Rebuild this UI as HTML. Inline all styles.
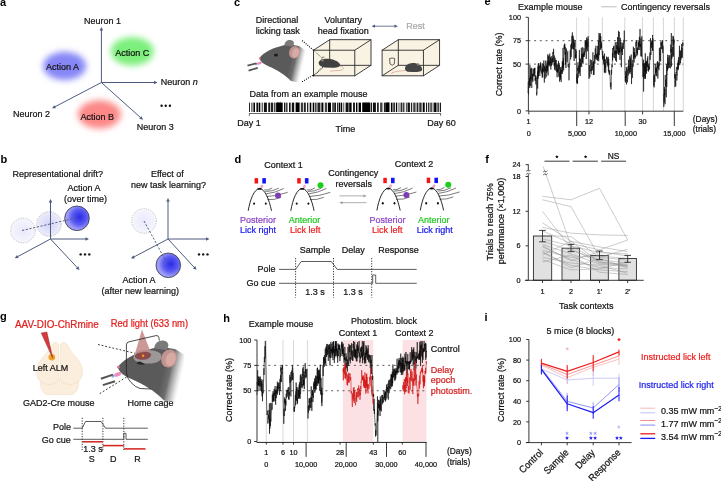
<!DOCTYPE html>
<html><head><meta charset="utf-8"><style>
html,body{margin:0;padding:0;background:#fff;width:721px;height:481px;overflow:hidden}
svg{display:block;will-change:transform}
svg text{font-family:"Liberation Sans", sans-serif}
</style></head><body>
<svg width="721" height="481" viewBox="0 0 721 481">
<defs>
<radialGradient id="gA"><stop offset="0" stop-color="#8484f7"/><stop offset="0.45" stop-color="#8989f8"/><stop offset="0.72" stop-color="#a4a4fa"/><stop offset="0.88" stop-color="#d0d0fc"/><stop offset="1" stop-color="#ffffff" stop-opacity="0"/></radialGradient>
<radialGradient id="gB"><stop offset="0" stop-color="#fc8484"/><stop offset="0.45" stop-color="#fc8a8a"/><stop offset="0.72" stop-color="#fda6a6"/><stop offset="0.88" stop-color="#fed0d0"/><stop offset="1" stop-color="#ffffff" stop-opacity="0"/></radialGradient>
<radialGradient id="gC"><stop offset="0" stop-color="#78ee78"/><stop offset="0.45" stop-color="#80f080"/><stop offset="0.72" stop-color="#a0f4a0"/><stop offset="0.88" stop-color="#cef9ce"/><stop offset="1" stop-color="#ffffff" stop-opacity="0"/></radialGradient>
<radialGradient id="gS" cx="0.6" cy="0.45"><stop offset="0" stop-color="#2a2ae6"/><stop offset="0.6" stop-color="#5a5af2"/><stop offset="1" stop-color="#9c9cf8"/></radialGradient>
<radialGradient id="gD"><stop offset="0" stop-color="#e8e8fb"/><stop offset="1" stop-color="#f6f6fd"/></radialGradient>
<radialGradient id="gD2"><stop offset="0" stop-color="#d4d4f8"/><stop offset="1" stop-color="#ececfb"/></radialGradient>
<linearGradient id="mhead" x1="0" y1="0" x2="1" y2="0"><stop offset="0" stop-color="#555"/><stop offset="0.7" stop-color="#4a4a4a"/><stop offset="1" stop-color="#4a4a4a" stop-opacity="0"/></linearGradient>
<linearGradient id="mhead2" x1="0" y1="0" x2="1" y2="0.3"><stop offset="0" stop-color="#5e5e5e"/><stop offset="0.65" stop-color="#555"/><stop offset="1" stop-color="#555" stop-opacity="0"/></linearGradient>
<filter id="bl1" x="-50%" y="-50%" width="200%" height="200%"><feGaussianBlur stdDeviation="0.6"/></filter>
</defs>
<text x="0" y="5.6" font-size="11" text-anchor="start" fill="#000" font-weight="bold" >a</text>
<defs><filter id="blob" x="-50%" y="-50%" width="200%" height="200%"><feGaussianBlur stdDeviation="3"/></filter></defs>
<ellipse cx="64.6" cy="66" rx="21.5" ry="14.2" fill="#8686f7" filter="url(#blob)"/>
<ellipse cx="132.3" cy="51.4" rx="21.5" ry="14.2" fill="#7cef7c" filter="url(#blob)"/>
<ellipse cx="99.4" cy="114.5" rx="21.5" ry="14.2" fill="#fc8888" filter="url(#blob)"/>
<line x1="101.4" y1="82.5" x2="101.4" y2="30.0" stroke="#4e5b7e" stroke-width="1.0" />
<polygon points="101.4,27 103.15,30.50 99.65,30.50" fill="#4e5b7e"/>
<line x1="101.4" y1="82.5" x2="154.5" y2="82.5" stroke="#4e5b7e" stroke-width="1.0" />
<polygon points="157.5,82.5 154.00,84.25 154.00,80.75" fill="#4e5b7e"/>
<line x1="101.4" y1="82.5" x2="54.65917842155358" y2="106.91119831424935" stroke="#4e5b7e" stroke-width="1.0" />
<polygon points="52,108.3 54.29,105.13 55.91,108.23" fill="#4e5b7e"/>
<line x1="101.4" y1="82.5" x2="140.76638370482124" y2="117.79726231225557" stroke="#4e5b7e" stroke-width="1.0" />
<polygon points="143,119.8 139.23,118.77 141.56,116.16" fill="#4e5b7e"/>
<text transform="translate(84,23.6) scale(1,1.1)" font-size="9" text-anchor="start" fill="#141414" stroke="#141414" stroke-width="0.22" >Neuron 1</text>
<text transform="translate(160.8,84.5) scale(1,1.1)" font-size="9" text-anchor="start" fill="#141414" stroke="#141414" stroke-width="0.22" >Neuron <tspan font-style="italic">n</tspan></text>
<text transform="translate(13,117) scale(1,1.1)" font-size="9" text-anchor="start" fill="#141414" stroke="#141414" stroke-width="0.22" >Neuron 2</text>
<text transform="translate(136.8,129.7) scale(1,1.1)" font-size="9" text-anchor="start" fill="#141414" stroke="#141414" stroke-width="0.22" >Neuron 3</text>
<text transform="translate(45.9,69.8) scale(1,1.1)" font-size="9" text-anchor="start" fill="#141414" stroke="#141414" stroke-width="0.22" >Action A</text>
<text transform="translate(115.3,55.9) scale(1,1.1)" font-size="9" text-anchor="start" fill="#141414" stroke="#141414" stroke-width="0.22" >Action C</text>
<text transform="translate(80.4,119.6) scale(1,1.1)" font-size="9" text-anchor="start" fill="#141414" stroke="#141414" stroke-width="0.22" >Action B</text>
<circle cx="161.6" cy="105.7" r="1.2" fill="#111"/>
<circle cx="165.7" cy="105.7" r="1.2" fill="#111"/>
<circle cx="169.9" cy="105.7" r="1.2" fill="#111"/>
<text x="0.5" y="162.5" font-size="11" text-anchor="start" fill="#000" font-weight="bold" >b</text>
<text transform="translate(12.5,176.5) scale(1,1.1)" font-size="9" text-anchor="start" fill="#141414" stroke="#141414" stroke-width="0.22" >Representational drift?</text>
<text transform="translate(67.5,191.3) scale(1,1.1)" font-size="9" text-anchor="start" fill="#141414" stroke="#141414" stroke-width="0.22" >Action A</text>
<text transform="translate(64,202) scale(1,1.1)" font-size="9" text-anchor="start" fill="#141414" stroke="#141414" stroke-width="0.22" >(over time)</text>
<circle cx="23" cy="230.5" r="12.3" fill="url(#gD)" stroke="#a0a0a0" stroke-width="0.8" stroke-dasharray="0.9,1.4"/>
<circle cx="49" cy="224" r="12.3" fill="url(#gD2)" stroke="#a0a0a0" stroke-width="0.8" stroke-dasharray="0.9,1.4"/>
<circle cx="77" cy="218.3" r="12.3" fill="url(#gS)" stroke="#222" stroke-width="0.7"/>
<line x1="22" y1="230.5" x2="76" y2="218" stroke="#4e5b7e" stroke-width="0.95" stroke-dasharray="2.2,1.6"/>
<line x1="50.5" y1="239" x2="50.5" y2="202.0" stroke="#4e5b7e" stroke-width="1.0" />
<polygon points="50.5,199 52.25,202.50 48.75,202.50" fill="#4e5b7e"/>
<line x1="50.5" y1="239" x2="86.0" y2="239.0" stroke="#4e5b7e" stroke-width="1.0" />
<polygon points="89,239 85.50,240.75 85.50,237.25" fill="#4e5b7e"/>
<line x1="50.5" y1="239" x2="17.343780914946993" y2="256.7821063249446" stroke="#4e5b7e" stroke-width="1.0" />
<polygon points="14.7,258.2 16.96,255.00 18.61,258.09" fill="#4e5b7e"/>
<line x1="50.5" y1="239" x2="77.45052861367277" y2="267.8091857594433" stroke="#4e5b7e" stroke-width="1.0" />
<polygon points="79.5,270 75.83,268.64 78.39,266.25" fill="#4e5b7e"/>
<circle cx="80.65" cy="254.4" r="1.2" fill="#111"/>
<circle cx="85.0" cy="254.4" r="1.2" fill="#111"/>
<circle cx="89.3" cy="254.4" r="1.2" fill="#111"/>
<text transform="translate(151,176.6) scale(1,1.1)" font-size="9" text-anchor="start" fill="#141414" stroke="#141414" stroke-width="0.22" >Effect of</text>
<text transform="translate(131,188) scale(1,1.1)" font-size="9" text-anchor="start" fill="#141414" stroke="#141414" stroke-width="0.22" >new task learning?</text>
<circle cx="144" cy="221" r="12.3" fill="url(#gD)" stroke="#a0a0a0" stroke-width="0.8" stroke-dasharray="0.9,1.4"/>
<circle cx="168.3" cy="265.3" r="12.3" fill="url(#gS)" stroke="#222" stroke-width="0.7"/>
<line x1="144" y1="221" x2="167" y2="263" stroke="#4e5b7e" stroke-width="0.95" stroke-dasharray="2.2,1.6"/>
<line x1="168" y1="239" x2="168.0" y2="201.0" stroke="#4e5b7e" stroke-width="1.0" />
<polygon points="168,198 169.75,201.50 166.25,201.50" fill="#4e5b7e"/>
<line x1="168" y1="239" x2="206.5" y2="239.0" stroke="#4e5b7e" stroke-width="1.0" />
<polygon points="209.5,239 206.00,240.75 206.00,237.25" fill="#4e5b7e"/>
<line x1="168" y1="239" x2="133.653976282872" y2="257.1012827698377" stroke="#4e5b7e" stroke-width="1.0" />
<polygon points="131,258.5 133.28,255.32 134.91,258.42" fill="#4e5b7e"/>
<line x1="168" y1="239" x2="194.46248881655637" y2="267.59805808947146" stroke="#4e5b7e" stroke-width="1.0" />
<polygon points="196.5,269.8 192.84,268.42 195.41,266.04" fill="#4e5b7e"/>
<circle cx="199" cy="254.4" r="1.2" fill="#111"/>
<circle cx="203.2" cy="254.4" r="1.2" fill="#111"/>
<circle cx="207.5" cy="254.4" r="1.2" fill="#111"/>
<text transform="translate(122.5,282.5) scale(1,1.1)" font-size="9" text-anchor="start" fill="#141414" stroke="#141414" stroke-width="0.22" >Action A</text>
<text transform="translate(101.5,294) scale(1,1.1)" font-size="9" text-anchor="start" fill="#141414" stroke="#141414" stroke-width="0.22" >(after new learning)</text>
<text x="234" y="6" font-size="11" text-anchor="start" fill="#000" font-weight="bold" >c</text>
<text transform="translate(255.8,23.3) scale(1,1.1)" font-size="9" text-anchor="start" fill="#141414" stroke="#141414" stroke-width="0.22" >Directional</text>
<text transform="translate(255.8,33.6) scale(1,1.1)" font-size="9" text-anchor="start" fill="#141414" stroke="#141414" stroke-width="0.22" >licking task</text>
<text transform="translate(324.4,23.2) scale(1,1.1)" font-size="9" text-anchor="start" fill="#141414" stroke="#141414" stroke-width="0.22" >Voluntary</text>
<text transform="translate(317.8,33.6) scale(1,1.1)" font-size="9" text-anchor="start" fill="#141414" stroke="#141414" stroke-width="0.22" >head fixation</text>
<text transform="translate(406.2,28.9) scale(1,1.1)" font-size="9" text-anchor="start" fill="#a8a8a8" stroke="#a8a8a8" stroke-width="0.22" >Rest</text>
<line x1="373.5" y1="26.2" x2="396" y2="26.2" stroke="#4e5b7e" stroke-width="0.8" />
<polygon points="371.6,26.2 375,24.6 375,27.8" fill="#4e5b7e"/>
<polygon points="397.9,26.2 394.5,24.6 394.5,27.8" fill="#4e5b7e"/>
<defs><linearGradient id="mhc" gradientUnits="userSpaceOnUse" x1="290.5" y1="60" x2="303.5" y2="63"><stop offset="0" stop-color="#5a5a5a"/><stop offset="0.35" stop-color="#606060" stop-opacity="0.92"/><stop offset="0.7" stop-color="#858585" stop-opacity="0.45"/><stop offset="1" stop-color="#bbbbbb" stop-opacity="0"/></linearGradient></defs>
<path d="M259.3,58.3 C262,54.5 268,50.3 276,47.6 C281,46 285,44.6 289,44.2 L299,46 L305,50 L305,84 L291,81 C284,74 277,70 269,66.5 C264,64.5 260.5,62 259.3,58.3 Z" fill="url(#mhc)"/>
<path d="M284.3,45.5 C284.5,42 287,40 290,40 C292.5,40 294,41.5 294,43.5 L293,46.5 Z" fill="#7a7a7a"/>
<ellipse cx="294.5" cy="52.3" rx="5.4" ry="6.3" fill="#c09290" transform="rotate(20 294.5 52.3)"/>
<ellipse cx="295.6" cy="52.8" rx="3.4" ry="4.8" fill="#d8aaa4" transform="rotate(20 295.6 52.8)"/>
<ellipse cx="276" cy="55" rx="2" ry="1.5" fill="#1c1c1c"/>
<circle cx="259.8" cy="58.2" r="1" fill="#e07a8a"/>
<ellipse cx="259.3" cy="63.2" rx="2.6" ry="1.3" fill="#f08ac0" transform="rotate(-20 259.3 63.2)"/>
<circle cx="256" cy="64.3" r="1.1" fill="#7ab0f0"/>
<line x1="247.5" y1="65.6" x2="256.6" y2="63.2" stroke="#555" stroke-width="1.7" />
<line x1="248.6" y1="70.6" x2="257.7" y2="67.9" stroke="#555" stroke-width="1.7" />
<line x1="302.5" y1="40.8" x2="313.3" y2="50" stroke="#000" stroke-width="1.15" stroke-dasharray="0.01,2.3" stroke-linecap="round"/>
<line x1="302.5" y1="81.5" x2="313.3" y2="75" stroke="#000" stroke-width="1.15" stroke-dasharray="0.01,2.3" stroke-linecap="round"/>
<polygon points="313.5,50.2 329.7,39.7 371.0,39.7 371.0,65.30000000000001 354.8,75.80000000000001 313.5,75.80000000000001" fill="#f8f3e2"/>
<rect x="329.7" y="39.7" width="41.3" height="25.6" stroke="#2b2b2b" stroke-width="0.9" fill="none"/>
<rect x="313.5" y="50.2" width="41.3" height="25.6" stroke="#2b2b2b" stroke-width="0.9" fill="none"/>
<line x1="313.5" y1="50.2" x2="329.7" y2="39.7" stroke="#2b2b2b" stroke-width="0.9" />
<line x1="354.8" y1="50.2" x2="371.0" y2="39.7" stroke="#2b2b2b" stroke-width="0.9" />
<line x1="354.8" y1="75.80000000000001" x2="371.0" y2="65.30000000000001" stroke="#2b2b2b" stroke-width="0.9" />
<polygon points="382.1,50.2 398.3,39.7 439.6,39.7 439.6,65.30000000000001 423.40000000000003,75.80000000000001 382.1,75.80000000000001" fill="#f8f3e2"/>
<rect x="398.3" y="39.7" width="41.3" height="25.6" stroke="#2b2b2b" stroke-width="0.9" fill="none"/>
<rect x="382.1" y="50.2" width="41.3" height="25.6" stroke="#2b2b2b" stroke-width="0.9" fill="none"/>
<line x1="382.1" y1="50.2" x2="398.3" y2="39.7" stroke="#2b2b2b" stroke-width="0.9" />
<line x1="423.40000000000003" y1="50.2" x2="439.6" y2="39.7" stroke="#2b2b2b" stroke-width="0.9" />
<line x1="423.40000000000003" y1="75.80000000000001" x2="439.6" y2="65.30000000000001" stroke="#2b2b2b" stroke-width="0.9" />
<line x1="382.1" y1="75.8" x2="398.3" y2="65.3" stroke="#2b2b2b" stroke-width="0.9" />
<line x1="313.5" y1="50.2" x2="322" y2="58" stroke="#333" stroke-width="0.9" stroke-dasharray="0.01,1.7" stroke-linecap="round"/>
<line x1="313.5" y1="75.8" x2="323" y2="67" stroke="#111" stroke-width="1.1" stroke-dasharray="0.01,1.7" stroke-linecap="round"/>
<path d="M318.7,62.5 C319.5,59.5 324,58 330,59 C335,59.8 339,62 340.2,64.5 C340.5,66.8 337,68 332,67.8 L325,67.5 C321,67 318.3,64.8 318.7,62.5 Z" fill="#404040"/>
<path d="M339.5,66 C343,66.5 345,68.5 342,70 C338,71 334,70.5 330,71.2" fill="none" stroke="#d88a8a" stroke-width="0.6"/>
<path d="M321.5,59.5 L322.5,57 L324.5,57.3" fill="none" stroke="#555" stroke-width="0.7"/>
<circle cx="322.5" cy="60.2" r="1.3" fill="#8a7878"/>
<path d="M405,68 C405.5,65 408,63.5 411,63.2 C414,62.8 417,63.2 419.5,65 C421.5,66.5 422.5,68.5 422,70.5 C420,72 416,72.2 412,72 L407.5,71.8 C405.5,71 404.8,69.5 405,68 Z" fill="#454545"/>
<path d="M405.5,70.5 C400,71 395,71.5 392,72.6 L391.7,74" fill="none" stroke="#d88a8a" stroke-width="0.6"/>
<path d="M389.6,58.5 L390,64 Q392.2,66.6 394.3,64 L394.7,58.5 Q392.2,57.6 389.6,58.5 Z" fill="none" stroke="#333" stroke-width="0.75"/>
<circle cx="418" cy="64.5" r="1.2" fill="#8a7070"/>
<text transform="translate(249.5,96.6) scale(1,1.1)" font-size="9" text-anchor="start" fill="#141414" stroke="#141414" stroke-width="0.22" >Data from an example mouse</text>
<rect x="249.00" y="102.6" width="1.00" height="9.4" fill="#222"/><rect x="251.40" y="102.6" width="1.00" height="9.4" fill="#222"/><rect x="253.40" y="102.6" width="1.60" height="9.4" fill="#000"/><rect x="256.40" y="102.6" width="2.00" height="9.4" fill="#111"/><rect x="259.00" y="102.6" width="1.30" height="9.4" fill="#000"/><rect x="261.70" y="102.6" width="1.00" height="9.4" fill="#222"/><rect x="263.90" y="102.6" width="3.00" height="9.4" fill="#111"/><rect x="268.30" y="102.6" width="1.60" height="9.4" fill="#000"/><rect x="270.70" y="102.6" width="2.40" height="9.4" fill="#222"/><rect x="273.90" y="102.6" width="1.60" height="9.4" fill="#444"/><rect x="276.10" y="102.6" width="3.00" height="9.4" fill="#000"/><rect x="279.70" y="102.6" width="3.00" height="9.4" fill="#000"/><rect x="284.10" y="102.6" width="1.30" height="9.4" fill="#000"/><rect x="286.00" y="102.6" width="1.60" height="9.4" fill="#444"/><rect x="289.00" y="102.6" width="1.60" height="9.4" fill="#111"/><rect x="291.80" y="102.6" width="2.40" height="9.4" fill="#111"/><rect x="295.60" y="102.6" width="1.00" height="9.4" fill="#000"/><rect x="297.60" y="102.6" width="0.80" height="9.4" fill="#111"/><rect x="299.20" y="102.6" width="1.00" height="9.4" fill="#444"/><rect x="301.20" y="102.6" width="1.60" height="9.4" fill="#111"/><rect x="303.80" y="102.6" width="2.00" height="9.4" fill="#222"/><rect x="307.00" y="102.6" width="1.30" height="9.4" fill="#222"/><rect x="309.70" y="102.6" width="1.60" height="9.4" fill="#000"/><rect x="312.70" y="102.6" width="1.30" height="9.4" fill="#000"/><rect x="314.60" y="102.6" width="2.00" height="9.4" fill="#444"/><rect x="317.40" y="102.6" width="3.00" height="9.4" fill="#222"/><rect x="321.40" y="102.6" width="2.00" height="9.4" fill="#000"/><rect x="324.80" y="102.6" width="2.40" height="9.4" fill="#444"/><rect x="328.00" y="102.6" width="3.00" height="9.4" fill="#000"/><rect x="332.40" y="102.6" width="1.30" height="9.4" fill="#000"/><rect x="334.30" y="102.6" width="1.60" height="9.4" fill="#000"/><rect x="337.10" y="102.6" width="1.30" height="9.4" fill="#111"/><rect x="339.00" y="102.6" width="1.00" height="9.4" fill="#000"/><rect x="340.60" y="102.6" width="1.60" height="9.4" fill="#000"/><rect x="343.40" y="102.6" width="0.80" height="9.4" fill="#222"/><rect x="345.60" y="102.6" width="3.00" height="9.4" fill="#111"/><rect x="349.20" y="102.6" width="2.40" height="9.4" fill="#000"/><rect x="353.00" y="102.6" width="2.00" height="9.4" fill="#222"/><rect x="356.00" y="102.6" width="1.00" height="9.4" fill="#000"/><rect x="357.60" y="102.6" width="0.80" height="9.4" fill="#000"/><rect x="359.00" y="102.6" width="2.00" height="9.4" fill="#000"/><rect x="362.40" y="102.6" width="1.00" height="9.4" fill="#000"/><rect x="364.60" y="102.6" width="2.00" height="9.4" fill="#000"/><rect x="367.60" y="102.6" width="2.40" height="9.4" fill="#000"/><rect x="370.60" y="102.6" width="1.30" height="9.4" fill="#000"/><rect x="372.90" y="102.6" width="3.00" height="9.4" fill="#111"/><rect x="377.10" y="102.6" width="1.60" height="9.4" fill="#111"/><rect x="380.10" y="102.6" width="2.40" height="9.4" fill="#444"/><rect x="383.90" y="102.6" width="2.00" height="9.4" fill="#222"/><rect x="386.50" y="102.6" width="3.00" height="9.4" fill="#000"/><rect x="390.90" y="102.6" width="1.60" height="9.4" fill="#000"/><rect x="393.30" y="102.6" width="1.60" height="9.4" fill="#222"/><rect x="395.90" y="102.6" width="1.30" height="9.4" fill="#000"/><rect x="398.60" y="102.6" width="0.80" height="9.4" fill="#222"/><rect x="400.60" y="102.6" width="1.30" height="9.4" fill="#111"/><rect x="402.50" y="102.6" width="2.00" height="9.4" fill="#444"/><rect x="405.90" y="102.6" width="1.00" height="9.4" fill="#444"/><rect x="407.50" y="102.6" width="2.40" height="9.4" fill="#111"/><rect x="410.90" y="102.6" width="1.30" height="9.4" fill="#222"/><rect x="413.20" y="102.6" width="2.40" height="9.4" fill="#444"/><rect x="416.60" y="102.6" width="1.60" height="9.4" fill="#222"/><rect x="418.80" y="102.6" width="0.80" height="9.4" fill="#000"/><rect x="420.20" y="102.6" width="1.30" height="9.4" fill="#000"/><rect x="422.70" y="102.6" width="2.00" height="9.4" fill="#000"/><rect x="426.10" y="102.6" width="1.00" height="9.4" fill="#000"/><rect x="428.10" y="102.6" width="1.30" height="9.4" fill="#222"/><rect x="430.40" y="102.6" width="1.30" height="9.4" fill="#111"/><rect x="432.70" y="102.6" width="0.80" height="9.4" fill="#222"/><rect x="434.10" y="102.6" width="2.40" height="9.4" fill="#000"/><rect x="437.30" y="102.6" width="2.00" height="9.4" fill="#444"/><rect x="440.10" y="102.6" width="0.90" height="9.4" fill="#000"/>
<rect x="362.5" y="102.6" width="6.5" height="9.4" fill="#000"/>
<rect x="277" y="102.6" width="4" height="9.4" fill="#000"/>
<rect x="296" y="102.6" width="3" height="9.4" fill="#000"/>
<rect x="386" y="102.6" width="3" height="9.4" fill="#000"/>
<line x1="249" y1="113.5" x2="441" y2="113.5" stroke="#444" stroke-width="0.8" />
<line x1="249.4" y1="113.5" x2="249.4" y2="115.8" stroke="#444" stroke-width="0.8" />
<line x1="440.6" y1="113.5" x2="440.6" y2="115.8" stroke="#444" stroke-width="0.8" />
<text transform="translate(249,126) scale(1,1.1)" font-size="9" text-anchor="middle" fill="#141414" stroke="#141414" stroke-width="0.22" >Day 1</text>
<text transform="translate(441.5,125.8) scale(1,1.1)" font-size="9" text-anchor="middle" fill="#141414" stroke="#141414" stroke-width="0.22" >Day 60</text>
<text transform="translate(345.4,131.8) scale(1,1.1)" font-size="9" text-anchor="middle" fill="#141414" stroke="#141414" stroke-width="0.22" >Time</text>
<text x="234.4" y="162.8" font-size="11" text-anchor="start" fill="#000" font-weight="bold" >d</text>
<text transform="translate(264.3,167.5) scale(1,1.1)" font-size="9" text-anchor="start" fill="#141414" stroke="#141414" stroke-width="0.22" >Context 1</text>
<text transform="translate(394.8,167.3) scale(1,1.1)" font-size="9" text-anchor="start" fill="#141414" stroke="#141414" stroke-width="0.22" >Context 2</text>
<text transform="translate(328.2,176.4) scale(1,1.1)" font-size="9" text-anchor="start" fill="#141414" stroke="#141414" stroke-width="0.22" >Contingency</text>
<text transform="translate(335.5,186.5) scale(1,1.1)" font-size="9" text-anchor="start" fill="#141414" stroke="#141414" stroke-width="0.22" >reversals</text>
<line x1="339.4" y1="195.9" x2="364" y2="195.9" stroke="#9a9a9a" stroke-width="0.8" />
<polygon points="366.8,195.9 363.4,194.5 363.4,197.3" fill="#9a9a9a"/>
<line x1="342" y1="202.7" x2="366.6" y2="202.7" stroke="#9a9a9a" stroke-width="0.8" />
<polygon points="339.2,202.7 342.6,201.3 342.6,204.1" fill="#9a9a9a"/>
<rect x="254.60000000000002" y="178.1" width="3.5" height="5.4" fill="#f41414"/>
<rect x="262.3" y="178.1" width="3.6" height="5.4" fill="#1414f4"/>
<ellipse cx="261.8" cy="186.5" rx="1.4" ry="1.9" fill="#f4a6c8" transform="rotate(35 261.8 186.5)"/>
<path d="M248.20000000000002,210.8 C250.10000000000002,199.4 254.10000000000002,189.20000000000002 259.6,188.4 C265.1,189.20000000000002 269.1,199.4 271.5,210.8" fill="none" stroke="#111" stroke-width="0.9"/>
<ellipse cx="259.6" cy="188.9" rx="2.2" ry="0.9" fill="#111"/>
<ellipse cx="254.10000000000002" cy="203.6" rx="0.95" ry="1.2" fill="#111"/>
<ellipse cx="265.8" cy="203.6" rx="0.95" ry="1.2" fill="#111"/>
<path d="M264.20000000000005,190.0 Q268.25,190.75 272.3,187.9" fill="none" stroke="#222" stroke-width="0.6"/>
<path d="M265.40000000000003,191.5 Q272.1,191.65 278.8,188.20000000000002" fill="none" stroke="#222" stroke-width="0.6"/>
<path d="M266.20000000000005,193.8 Q275.0,192.95000000000002 283.8,188.5" fill="none" stroke="#222" stroke-width="0.6"/>
<path d="M266.5,196.5 Q277.1,196.20000000000002 287.70000000000005,192.3" fill="none" stroke="#222" stroke-width="0.6"/>
<path d="M267.3,199.6 Q274.25,200.25 281.20000000000005,197.3" fill="none" stroke="#222" stroke-width="0.6"/>
<circle cx="278.0" cy="195.6" r="3" fill="#7c3cb4"/>
<rect x="297.2" y="178.1" width="3.5" height="5.4" fill="#f41414"/>
<rect x="304.9" y="178.1" width="3.6" height="5.4" fill="#1414f4"/>
<ellipse cx="304.4" cy="186.5" rx="1.4" ry="1.9" fill="#f4a6c8" transform="rotate(35 304.4 186.5)"/>
<path d="M290.8,210.8 C292.7,199.4 296.7,189.20000000000002 302.2,188.4 C307.7,189.20000000000002 311.7,199.4 314.09999999999997,210.8" fill="none" stroke="#111" stroke-width="0.9"/>
<ellipse cx="302.2" cy="188.9" rx="2.2" ry="0.9" fill="#111"/>
<ellipse cx="296.7" cy="203.6" rx="0.95" ry="1.2" fill="#111"/>
<ellipse cx="308.4" cy="203.6" rx="0.95" ry="1.2" fill="#111"/>
<path d="M306.8,190.0 Q310.84999999999997,190.75 314.9,187.9" fill="none" stroke="#222" stroke-width="0.6"/>
<path d="M308.0,191.5 Q314.7,191.65 321.4,188.20000000000002" fill="none" stroke="#222" stroke-width="0.6"/>
<path d="M308.8,193.8 Q317.59999999999997,192.95000000000002 326.4,188.5" fill="none" stroke="#222" stroke-width="0.6"/>
<path d="M309.09999999999997,196.5 Q319.7,196.20000000000002 330.3,192.3" fill="none" stroke="#222" stroke-width="0.6"/>
<path d="M309.9,199.6 Q316.84999999999997,200.25 323.8,197.3" fill="none" stroke="#222" stroke-width="0.6"/>
<circle cx="320.5" cy="185.3" r="3" fill="#18d018"/>
<rect x="383.3" y="177.79999999999998" width="3.5" height="5.4" fill="#f41414"/>
<rect x="391.0" y="177.79999999999998" width="3.6" height="5.4" fill="#1414f4"/>
<ellipse cx="390.5" cy="186.2" rx="1.4" ry="1.9" fill="#f4a6c8" transform="rotate(35 390.5 186.2)"/>
<path d="M376.90000000000003,210.5 C378.8,199.1 382.8,188.9 388.3,188.1 C393.8,188.9 397.8,199.1 400.2,210.5" fill="none" stroke="#111" stroke-width="0.9"/>
<ellipse cx="388.3" cy="188.6" rx="2.2" ry="0.9" fill="#111"/>
<ellipse cx="382.8" cy="203.29999999999998" rx="0.95" ry="1.2" fill="#111"/>
<ellipse cx="394.5" cy="203.29999999999998" rx="0.95" ry="1.2" fill="#111"/>
<path d="M392.90000000000003,189.7 Q396.95,190.45 401.0,187.6" fill="none" stroke="#222" stroke-width="0.6"/>
<path d="M394.1,191.2 Q400.8,191.35 407.5,187.9" fill="none" stroke="#222" stroke-width="0.6"/>
<path d="M394.90000000000003,193.5 Q403.7,192.65 412.5,188.2" fill="none" stroke="#222" stroke-width="0.6"/>
<path d="M395.2,196.2 Q405.8,195.9 416.40000000000003,192.0" fill="none" stroke="#222" stroke-width="0.6"/>
<path d="M396.0,199.29999999999998 Q402.95,199.95 409.90000000000003,197.0" fill="none" stroke="#222" stroke-width="0.6"/>
<circle cx="406.40000000000003" cy="195.1" r="3" fill="#7c3cb4"/>
<rect x="426.7" y="177.7" width="3.5" height="5.4" fill="#f41414"/>
<rect x="434.4" y="177.7" width="3.6" height="5.4" fill="#1414f4"/>
<ellipse cx="433.9" cy="186.1" rx="1.4" ry="1.9" fill="#f4a6c8" transform="rotate(35 433.9 186.1)"/>
<path d="M420.3,210.4 C422.2,199.0 426.2,188.8 431.7,188.0 C437.2,188.8 441.2,199.0 443.59999999999997,210.4" fill="none" stroke="#111" stroke-width="0.9"/>
<ellipse cx="431.7" cy="188.5" rx="2.2" ry="0.9" fill="#111"/>
<ellipse cx="426.2" cy="203.2" rx="0.95" ry="1.2" fill="#111"/>
<ellipse cx="437.9" cy="203.2" rx="0.95" ry="1.2" fill="#111"/>
<path d="M436.3,189.6 Q440.34999999999997,190.35 444.4,187.5" fill="none" stroke="#222" stroke-width="0.6"/>
<path d="M437.5,191.1 Q444.2,191.25 450.9,187.8" fill="none" stroke="#222" stroke-width="0.6"/>
<path d="M438.3,193.4 Q447.09999999999997,192.55 455.9,188.1" fill="none" stroke="#222" stroke-width="0.6"/>
<path d="M438.59999999999997,196.1 Q449.2,195.8 459.8,191.9" fill="none" stroke="#222" stroke-width="0.6"/>
<path d="M439.4,199.2 Q446.34999999999997,199.85 453.3,196.9" fill="none" stroke="#222" stroke-width="0.6"/>
<circle cx="448.2" cy="184.8" r="3" fill="#18d018"/>
<text transform="translate(240,222.8) scale(1,1.1)" font-size="9" text-anchor="start" fill="#8c46c4" stroke="#8c46c4" stroke-width="0.22" >Posterior</text>
<text transform="translate(240,233.1) scale(1,1.1)" font-size="9" text-anchor="start" fill="#1a1af0" stroke="#1a1af0" stroke-width="0.22" >Lick right</text>
<text transform="translate(288.7,222.8) scale(1,1.1)" font-size="9" text-anchor="start" fill="#22c822" stroke="#22c822" stroke-width="0.22" >Anterior</text>
<text transform="translate(290,233.1) scale(1,1.1)" font-size="9" text-anchor="start" fill="#f01c1c" stroke="#f01c1c" stroke-width="0.22" >Lick left</text>
<text transform="translate(369.5,222.8) scale(1,1.1)" font-size="9" text-anchor="start" fill="#8c46c4" stroke="#8c46c4" stroke-width="0.22" >Posterior</text>
<text transform="translate(372,233.1) scale(1,1.1)" font-size="9" text-anchor="start" fill="#f01c1c" stroke="#f01c1c" stroke-width="0.22" >Lick left</text>
<text transform="translate(418,222.8) scale(1,1.1)" font-size="9" text-anchor="start" fill="#22c822" stroke="#22c822" stroke-width="0.22" >Anterior</text>
<text transform="translate(416.7,233.1) scale(1,1.1)" font-size="9" text-anchor="start" fill="#1a1af0" stroke="#1a1af0" stroke-width="0.22" >Lick right</text>
<text transform="translate(299.8,252.7) scale(1,1.1)" font-size="9" text-anchor="start" fill="#141414" stroke="#141414" stroke-width="0.22" >Sample</text>
<text transform="translate(341.7,252.7) scale(1,1.1)" font-size="9" text-anchor="start" fill="#141414" stroke="#141414" stroke-width="0.22" >Delay</text>
<text transform="translate(378.3,252.7) scale(1,1.1)" font-size="9" text-anchor="start" fill="#141414" stroke="#141414" stroke-width="0.22" >Response</text>
<text transform="translate(275.5,271.6) scale(1,1.1)" font-size="9" text-anchor="end" fill="#141414" stroke="#141414" stroke-width="0.22" >Pole</text>
<text transform="translate(275.5,285.8) scale(1,1.1)" font-size="9" text-anchor="end" fill="#141414" stroke="#141414" stroke-width="0.22" >Go cue</text>
<polyline points="279.00,269.40 295.60,269.40 301.20,261.50 331.30,261.50 337.20,269.40 416.70,269.40" fill="none" stroke="#333" stroke-width="0.8" stroke-linejoin="round" />
<polyline points="279.00,283.30 372.70,283.30 372.70,275.00 375.70,275.00 375.70,283.30 416.70,283.30" fill="none" stroke="#333" stroke-width="0.8" stroke-linejoin="round" />
<line x1="295.6" y1="258" x2="295.6" y2="297.6" stroke="#222" stroke-width="0.9" stroke-dasharray="1.2,1.4"/>
<line x1="333.5" y1="258" x2="333.5" y2="297.6" stroke="#222" stroke-width="0.9" stroke-dasharray="1.2,1.4"/>
<line x1="371.7" y1="258" x2="371.7" y2="297.6" stroke="#222" stroke-width="0.9" stroke-dasharray="1.2,1.4"/>
<text transform="translate(305.3,294.8) scale(1,1.1)" font-size="9" text-anchor="start" fill="#141414" stroke="#141414" stroke-width="0.22" >1.3 s</text>
<text transform="translate(343.3,294.8) scale(1,1.1)" font-size="9" text-anchor="start" fill="#141414" stroke="#141414" stroke-width="0.22" >1.3 s</text>
<text x="484.5" y="5.2" font-size="11" text-anchor="start" fill="#000" font-weight="bold" >e</text>
<text transform="translate(518,10) scale(1,1.1)" font-size="9" text-anchor="start" fill="#141414" stroke="#141414" stroke-width="0.22" >Example mouse</text>
<line x1="601.3" y1="6.8" x2="616.6" y2="6.8" stroke="#bbb" stroke-width="1" />
<text transform="translate(621,10) scale(1,1.1)" font-size="9" text-anchor="start" fill="#141414" stroke="#141414" stroke-width="0.22" >Contingency reversals</text>
<line x1="576.6" y1="17.3" x2="576.6" y2="111.2" stroke="#c4c4c4" stroke-width="0.7" />
<line x1="588.8" y1="17.3" x2="588.8" y2="111.2" stroke="#c4c4c4" stroke-width="0.7" />
<line x1="602.4" y1="17.3" x2="602.4" y2="111.2" stroke="#c4c4c4" stroke-width="0.7" />
<line x1="624.8" y1="17.3" x2="624.8" y2="111.2" stroke="#c4c4c4" stroke-width="0.7" />
<line x1="642.5" y1="17.3" x2="642.5" y2="111.2" stroke="#c4c4c4" stroke-width="0.7" />
<line x1="653.4" y1="17.3" x2="653.4" y2="111.2" stroke="#c4c4c4" stroke-width="0.7" />
<line x1="663.4" y1="17.3" x2="663.4" y2="111.2" stroke="#c4c4c4" stroke-width="0.7" />
<line x1="674.4" y1="17.3" x2="674.4" y2="111.2" stroke="#c4c4c4" stroke-width="0.7" />
<line x1="683.3" y1="17.3" x2="683.3" y2="111.2" stroke="#c4c4c4" stroke-width="0.7" />
<line x1="528.4" y1="40.7" x2="683.3" y2="40.7" stroke="#333" stroke-width="0.8" stroke-dasharray="2,3.7"/>
<line x1="528.4" y1="64.1" x2="683.3" y2="64.1" stroke="#333" stroke-width="0.8" stroke-dasharray="2,3.7"/>
<polyline points="528.00,93.04 528.17,89.42 528.33,81.95 528.50,94.80 528.67,89.28 528.83,84.12 529.00,80.94 529.15,82.22 529.31,85.10 529.46,78.17 529.62,84.06 529.77,87.97 529.92,65.17 530.08,81.09 530.23,75.99 530.38,78.47 530.54,86.10 530.69,68.70 530.85,79.08 531.00,75.93 531.15,74.71 531.31,67.70 531.46,79.02 531.62,78.86 531.77,87.84 531.92,68.90 532.08,68.67 532.23,80.47 532.38,76.60 532.54,73.83 532.69,80.19 532.85,81.90 533.00,79.77 533.15,73.85 533.30,76.31 533.45,74.13 533.60,75.41 533.75,68.94 533.90,75.02 534.05,70.18 534.20,68.10 534.35,76.34 534.50,68.06 534.65,73.58 534.80,69.99 534.95,67.78 535.10,80.93 535.25,78.07 535.40,79.97 535.55,79.34 535.70,75.08 535.85,84.45 536.00,76.51 536.16,77.70 536.32,79.85 536.48,81.46 536.64,95.48 536.80,92.49 536.97,93.43 537.15,78.32 537.33,79.06 537.50,71.22 537.66,88.58 537.81,75.81 537.97,66.40 538.12,78.82 538.28,63.54 538.44,76.55 538.59,73.27 538.75,63.10 538.91,67.89 539.06,72.72 539.22,69.48 539.38,67.03 539.53,65.70 539.69,74.38 539.84,75.99 540.00,70.83 540.15,70.46 540.31,64.55 540.46,67.87 540.62,62.28 540.77,70.91 540.92,71.36 541.08,65.49 541.23,68.01 541.38,72.57 541.54,72.66 541.69,73.67 541.85,69.43 542.00,70.10 542.15,75.49 542.30,77.59 542.45,67.95 542.60,77.25 542.75,63.35 542.90,69.28 543.05,70.89 543.20,63.84 543.35,68.26 543.50,72.25 543.65,71.61 543.80,60.45 543.95,63.00 544.10,69.01 544.25,82.32 544.40,82.63 544.55,69.03 544.70,65.61 544.85,70.72 545.00,66.92 545.15,78.76 545.31,69.40 545.46,68.65 545.62,71.41 545.77,60.52 545.92,66.27 546.08,72.42 546.23,77.17 546.38,69.47 546.54,65.57 546.69,68.23 546.85,72.81 547.00,65.50 547.15,69.88 547.31,61.29 547.46,71.20 547.62,65.78 547.77,54.24 547.92,61.82 548.08,75.46 548.23,58.71 548.38,56.29 548.54,65.28 548.69,61.83 548.85,55.45 549.00,59.96 549.15,66.50 549.31,62.22 549.46,64.67 549.62,57.40 549.77,53.51 549.92,63.15 550.08,61.05 550.23,63.30 550.38,65.53 550.54,56.88 550.69,63.50 550.85,69.50 551.00,58.67 551.15,60.72 551.31,64.11 551.46,65.99 551.62,60.98 551.77,56.04 551.92,62.50 552.08,60.86 552.23,63.43 552.38,61.16 552.54,58.39 552.69,61.48 552.85,54.28 553.00,52.00 553.15,62.00 553.30,51.83 553.45,53.22 553.60,48.80 553.78,56.80 553.96,60.38 554.14,65.92 554.32,55.54 554.50,69.67 554.65,63.32 554.80,64.72 554.95,60.51 555.10,57.73 555.25,65.42 555.40,70.48 555.55,68.61 555.70,60.06 555.85,65.48 556.00,66.75 556.15,59.84 556.31,64.24 556.46,64.14 556.62,72.07 556.77,65.63 556.92,65.25 557.08,77.31 557.23,67.43 557.38,64.58 557.54,72.11 557.69,69.06 557.85,72.67 558.00,68.82 558.15,70.03 558.31,70.97 558.46,60.83 558.62,63.57 558.77,76.72 558.92,64.58 559.08,62.99 559.23,69.09 559.38,64.81 559.54,81.59 559.69,74.23 559.85,72.11 560.00,72.96 560.17,78.39 560.33,69.19 560.50,79.61 560.67,67.00 560.83,75.29 561.00,78.78 561.17,82.06 561.33,69.83 561.50,72.09 561.67,72.69 561.83,73.54 562.00,66.15 562.15,73.99 562.30,61.34 562.45,65.78 562.60,62.18 562.75,71.91 562.90,69.39 563.05,47.87 563.20,67.60 563.35,58.36 563.50,68.39 563.67,70.20 563.83,61.56 564.00,59.32 564.17,45.29 564.33,48.49 564.50,43.60 564.67,49.11 564.83,44.21 565.00,54.65 565.17,54.21 565.33,47.24 565.50,64.54 565.65,51.74 565.80,52.04 565.95,68.19 566.10,57.39 566.25,55.23 566.40,48.56 566.55,50.89 566.70,51.52 566.85,50.66 567.00,59.36 567.17,62.09 567.33,56.55 567.50,54.18 567.67,52.42 567.83,51.48 568.00,60.25 568.17,66.95 568.33,64.13 568.50,65.01 568.67,65.51 568.83,68.21 569.00,80.30 569.17,66.35 569.33,67.33 569.50,65.91 569.67,61.45 569.83,59.25 570.00,59.20 570.17,50.21 570.33,50.26 570.50,59.13 570.67,59.42 570.83,44.52 571.00,50.15 571.15,57.16 571.30,50.05 571.45,46.43 571.60,43.05 571.75,49.63 571.90,35.89 572.05,48.05 572.20,44.30 572.35,32.41 572.50,39.50 572.67,40.02 572.83,43.83 573.00,48.97 573.17,35.81 573.33,39.20 573.50,49.17 573.65,38.72 573.80,48.09 573.95,55.21 574.10,61.00 574.25,48.47 574.40,49.65 574.55,45.28 574.70,42.44 574.85,47.40 575.00,40.25 575.15,51.36 575.30,58.51 575.45,54.63 575.60,57.46 575.75,48.95 575.90,53.69 576.05,57.81 576.20,50.62 576.80,82.77 576.95,73.88 577.10,83.57 577.25,76.58 577.40,83.14 577.55,83.68 577.70,67.91 577.85,71.11 578.00,62.30 578.15,77.52 578.31,74.52 578.46,73.39 578.62,65.63 578.77,68.64 578.92,70.30 579.08,73.80 579.23,73.44 579.38,49.91 579.54,69.59 579.69,72.19 579.85,57.97 580.00,61.70 580.15,76.06 580.30,64.71 580.45,59.36 580.60,62.34 580.75,67.10 580.90,64.77 581.05,63.20 581.20,61.51 581.35,47.75 581.50,54.99 581.65,66.85 581.80,62.96 581.95,54.82 582.10,53.97 582.25,58.44 582.40,54.71 582.55,62.52 582.70,47.20 582.85,52.87 583.00,63.74 583.15,56.11 583.31,52.62 583.46,57.21 583.62,54.22 583.77,55.73 583.92,48.20 584.08,49.30 584.23,56.93 584.38,53.70 584.54,51.80 584.69,54.50 584.85,50.61 585.00,49.46 585.15,40.36 585.31,49.22 585.46,50.80 585.62,51.86 585.77,40.30 585.92,46.05 586.08,41.46 586.23,59.04 586.38,52.16 586.54,37.61 586.69,48.75 586.85,41.84 587.00,44.25 587.16,42.72 587.31,43.33 587.47,45.46 587.62,51.23 587.78,38.51 587.93,46.83 588.09,36.18 588.24,41.73 588.40,43.04 589.00,78.96 589.17,69.39 589.33,65.13 589.50,70.05 589.67,73.06 589.83,77.23 590.00,66.30 590.15,64.76 590.31,59.41 590.46,64.89 590.62,71.16 590.77,71.36 590.92,69.37 591.08,70.22 591.23,74.12 591.38,63.06 591.54,60.17 591.69,69.85 591.85,70.84 592.00,66.37 592.15,67.47 592.31,70.12 592.46,66.36 592.62,66.94 592.77,66.37 592.92,52.33 593.08,67.49 593.23,62.19 593.38,75.00 593.54,70.94 593.69,61.15 593.85,68.33 594.00,74.81 594.17,71.23 594.33,64.15 594.50,55.23 594.67,60.06 594.83,63.61 595.00,63.18 595.15,52.38 595.31,48.44 595.46,55.09 595.62,54.17 595.77,58.45 595.92,45.74 596.08,59.50 596.23,58.55 596.38,54.29 596.54,57.30 596.69,55.06 596.85,56.28 597.00,57.96 597.15,59.86 597.31,52.79 597.46,60.70 597.62,48.27 597.77,45.93 597.92,48.67 598.08,58.82 598.23,45.44 598.38,41.04 598.54,47.43 598.69,61.24 598.85,40.02 599.00,32.98 599.15,52.15 599.30,55.15 599.45,50.93 599.60,47.31 599.75,39.48 599.90,34.76 600.05,42.26 600.20,33.01 600.35,49.94 600.50,44.05 600.65,41.44 600.81,36.33 600.96,48.64 601.12,41.26 601.27,42.27 601.43,48.02 601.58,43.43 601.74,48.62 601.89,49.25 602.05,51.65 602.20,53.15 602.60,59.53 602.76,50.86 602.92,58.12 603.08,56.32 603.24,60.69 603.40,63.68 603.56,62.72 603.72,55.67 603.88,57.25 604.04,61.67 604.20,58.69 604.36,72.22 604.52,53.61 604.68,66.55 604.84,73.15 605.00,63.32 605.15,67.88 605.31,59.36 605.46,59.45 605.62,72.68 605.77,72.25 605.92,66.44 606.08,66.48 606.23,61.84 606.38,63.06 606.54,56.58 606.69,58.23 606.85,57.77 607.00,60.58 607.15,57.63 607.31,57.59 607.46,64.79 607.62,60.46 607.77,62.88 607.92,66.10 608.08,66.77 608.23,56.84 608.38,71.39 608.54,71.30 608.69,58.95 608.85,72.68 609.00,71.23 609.16,74.42 609.33,73.58 609.49,74.54 609.65,70.11 609.82,73.07 609.98,75.59 610.15,78.31 610.31,84.76 610.47,87.27 610.64,86.95 610.80,82.49 610.95,89.48 611.10,87.04 611.25,80.88 611.40,69.66 611.55,74.54 611.70,70.62 611.85,65.79 612.00,64.42 612.15,67.33 612.31,62.30 612.46,53.33 612.62,60.58 612.77,48.07 612.92,55.93 613.08,55.67 613.23,57.42 613.38,48.43 613.54,46.71 613.69,49.40 613.85,45.79 614.00,48.03 614.15,53.81 614.31,53.24 614.46,58.19 614.62,50.65 614.77,54.19 614.92,47.94 615.08,46.18 615.23,42.21 615.38,42.93 615.54,60.64 615.69,51.39 615.85,54.56 616.00,50.03 616.15,52.27 616.31,50.80 616.46,61.73 616.62,45.26 616.77,49.04 616.92,42.00 617.08,53.71 617.23,45.66 617.38,43.65 617.54,36.99 617.69,49.70 617.85,45.63 618.00,52.75 618.15,48.50 618.31,52.32 618.46,54.75 618.62,30.81 618.77,54.39 618.92,54.80 619.08,46.48 619.23,32.02 619.38,51.90 619.54,47.53 619.69,52.85 619.85,48.60 620.00,59.94 620.15,48.03 620.31,37.82 620.46,47.21 620.61,48.61 620.76,48.21 620.92,42.22 621.07,51.99 621.22,50.85 621.37,67.22 621.53,48.61 621.68,50.52 621.83,46.50 621.98,51.33 622.14,42.56 622.29,44.30 622.44,54.92 622.59,48.97 622.75,48.77 622.90,47.34 623.05,44.17 623.21,43.56 623.36,48.85 623.52,42.87 623.67,43.52 623.83,39.88 623.98,42.16 624.14,42.38 624.29,30.57 624.45,38.22 624.60,45.57 625.00,74.94 625.15,75.83 625.31,81.32 625.46,75.96 625.62,82.50 625.77,71.14 625.92,75.74 626.08,75.46 626.23,78.31 626.38,67.00 626.54,84.47 626.69,78.72 626.85,71.92 627.00,71.50 627.15,68.85 627.30,74.74 627.45,82.30 627.60,79.99 627.75,79.06 627.90,75.99 628.05,66.46 628.20,75.45 628.35,68.13 628.50,59.73 628.65,68.02 628.80,65.48 628.95,70.38 629.10,67.79 629.25,72.88 629.40,67.63 629.55,67.81 629.70,66.61 629.85,55.83 630.00,74.04 630.15,57.50 630.31,71.88 630.46,69.46 630.62,59.69 630.77,67.22 630.92,62.99 631.08,62.24 631.23,54.53 631.38,61.88 631.54,84.00 631.69,68.32 631.85,69.10 632.00,67.57 632.15,64.62 632.31,76.27 632.46,77.79 632.62,68.70 632.77,59.86 632.92,62.22 633.08,66.72 633.23,60.64 633.38,46.74 633.54,59.00 633.69,55.14 633.85,53.96 634.00,52.32 634.15,62.42 634.31,48.05 634.46,56.94 634.62,52.52 634.77,53.89 634.92,56.08 635.08,57.45 635.23,58.60 635.38,55.56 635.54,57.11 635.69,51.32 635.85,43.94 636.00,41.93 636.15,46.37 636.31,40.13 636.46,42.76 636.62,41.56 636.77,56.29 636.92,47.31 637.08,53.03 637.23,48.69 637.38,48.32 637.54,54.72 637.69,47.44 637.85,47.35 638.00,46.83 638.16,41.71 638.31,46.47 638.47,49.92 638.62,43.05 638.78,46.00 638.94,41.10 639.09,46.87 639.25,41.51 639.41,36.89 639.56,43.33 639.72,50.06 639.88,39.04 640.03,29.02 640.19,45.80 640.34,44.21 640.50,47.15 640.66,43.74 640.83,56.31 640.99,38.32 641.15,44.04 641.32,46.47 641.48,50.18 641.65,56.44 641.81,36.29 641.97,53.44 642.14,55.91 642.30,58.20 642.80,76.74 642.96,76.92 643.11,74.86 643.27,75.14 643.43,59.66 643.59,91.56 643.74,73.71 643.90,76.08 644.06,63.67 644.21,78.91 644.37,63.17 644.53,71.37 644.69,69.46 644.84,65.53 645.00,77.52 645.15,71.02 645.31,53.26 645.46,78.87 645.62,61.68 645.77,64.13 645.92,67.50 646.08,72.30 646.23,61.76 646.38,65.13 646.54,73.75 646.69,60.83 646.85,66.20 647.00,62.46 647.15,62.42 647.31,58.49 647.46,59.57 647.62,67.09 647.77,56.31 647.92,70.64 648.08,71.04 648.23,65.79 648.38,66.76 648.54,71.57 648.69,64.31 648.85,68.99 649.00,66.66 649.17,66.45 649.33,69.77 649.50,64.64 649.67,61.42 649.83,53.61 650.00,52.62 650.15,59.85 650.31,55.70 650.46,38.13 650.62,51.02 650.77,51.43 650.92,55.03 651.08,44.50 651.23,42.88 651.38,47.36 651.54,47.90 651.69,40.47 651.85,45.06 652.00,41.39 652.15,43.92 652.30,46.76 652.45,50.66 652.60,34.90 652.75,50.77 652.90,38.55 653.05,42.04 653.20,47.25 653.80,85.93 653.96,76.22 654.11,87.40 654.27,75.38 654.43,74.39 654.59,78.18 654.74,78.02 654.90,81.99 655.06,76.76 655.21,63.95 655.37,69.06 655.53,73.45 655.69,73.07 655.84,68.41 656.00,75.92 656.15,67.13 656.31,71.81 656.46,69.15 656.62,68.48 656.77,76.23 656.92,71.11 657.08,62.56 657.23,67.98 657.38,68.18 657.54,61.13 657.69,69.22 657.85,78.52 658.00,69.25 658.15,63.07 658.31,64.40 658.46,67.89 658.62,65.98 658.77,65.84 658.92,70.25 659.08,61.80 659.23,66.01 659.38,48.18 659.54,54.69 659.69,53.90 659.85,60.99 660.00,55.19 660.15,47.30 660.31,47.74 660.46,47.40 660.62,61.42 660.77,44.27 660.92,41.64 661.08,45.68 661.23,42.49 661.38,48.06 661.54,49.04 661.69,48.38 661.85,46.37 662.00,41.32 662.15,49.20 662.30,44.14 662.45,41.98 662.60,40.04 662.75,52.97 662.90,45.66 663.05,46.63 663.20,47.25 663.80,107.04 663.96,97.21 664.11,93.78 664.27,102.24 664.43,86.93 664.59,90.31 664.74,95.00 664.90,89.00 665.06,104.27 665.21,74.96 665.37,83.25 665.53,86.64 665.69,79.53 665.84,83.16 666.00,84.06 666.15,83.54 666.31,97.30 666.46,74.60 666.62,64.29 666.77,87.07 666.92,74.46 667.08,75.04 667.23,66.41 667.38,70.85 667.54,69.81 667.69,54.72 667.85,69.21 668.00,57.43 668.15,62.63 668.31,68.06 668.46,63.88 668.62,62.36 668.77,64.96 668.92,55.06 669.08,59.48 669.23,61.24 669.38,63.36 669.54,67.76 669.69,56.75 669.85,55.46 670.00,58.44 670.15,62.31 670.30,63.67 670.45,68.32 670.60,60.52 670.75,44.58 670.90,51.74 671.05,49.02 671.20,53.21 671.35,33.11 671.50,66.54 671.65,54.80 671.80,58.75 671.95,53.58 672.10,57.06 672.25,52.66 672.40,47.99 672.55,47.18 672.70,55.06 672.85,42.77 673.00,35.88 673.15,45.12 673.30,36.50 673.45,56.60 673.60,43.73 673.75,39.78 673.90,43.48 674.05,39.44 674.20,45.57 674.70,78.33 674.85,73.67 675.01,87.10 675.16,79.51 675.31,79.71 675.47,74.42 675.62,82.58 675.77,86.26 675.93,76.45 676.08,72.12 676.23,73.10 676.39,66.93 676.54,67.66 676.69,69.13 676.85,80.46 677.00,74.30 677.15,75.29 677.31,73.12 677.46,66.43 677.62,69.58 677.77,64.97 677.92,62.68 678.08,70.17 678.23,60.17 678.38,68.51 678.54,65.17 678.69,57.25 678.85,65.60 679.00,56.89 679.15,56.15 679.31,54.29 679.46,45.80 679.62,53.90 679.77,64.96 679.92,51.27 680.08,50.48 680.23,55.19 680.38,59.69 680.54,63.23 680.69,50.79 680.85,53.17 681.00,59.59 681.15,55.74 681.31,54.01 681.46,47.97 681.62,43.93 681.77,57.97 681.92,50.49 682.08,47.74 682.23,57.47 682.38,51.81 682.54,50.02 682.69,42.33 682.85,45.82 683.00,43.04" fill="none" stroke="#080808" stroke-width="0.6" stroke-linejoin="round" />
<line x1="528.4" y1="17.3" x2="528.4" y2="111.2" stroke="#222" stroke-width="0.9" />
<line x1="528.4" y1="111.2" x2="683.3" y2="111.2" stroke="#222" stroke-width="0.9" />
<line x1="525.6" y1="17.299999999999997" x2="528.4" y2="17.299999999999997" stroke="#222" stroke-width="0.9" />
<text transform="translate(521,19.9) scale(1,1.1)" font-size="7.3" text-anchor="end" fill="#141414" stroke="#141414" stroke-width="0.22" >100</text>
<line x1="525.6" y1="40.7" x2="528.4" y2="40.7" stroke="#222" stroke-width="0.9" />
<text transform="translate(521,43.300000000000004) scale(1,1.1)" font-size="7.3" text-anchor="end" fill="#141414" stroke="#141414" stroke-width="0.22" >75</text>
<line x1="525.6" y1="64.1" x2="528.4" y2="64.1" stroke="#222" stroke-width="0.9" />
<text transform="translate(521,66.69999999999999) scale(1,1.1)" font-size="7.3" text-anchor="end" fill="#141414" stroke="#141414" stroke-width="0.22" >50</text>
<line x1="525.6" y1="110.9" x2="528.4" y2="110.9" stroke="#222" stroke-width="0.9" />
<text transform="translate(521,113.5) scale(1,1.1)" font-size="7.3" text-anchor="end" fill="#141414" stroke="#141414" stroke-width="0.22" >0</text>
<text x="0" y="0" font-size="9" text-anchor="middle" fill="#141414" stroke="#141414" stroke-width="0.22" transform="translate(502.3,64.4) rotate(-90) scale(1,1.1)">Correct rate (%)</text>
<line x1="528.8" y1="111.2" x2="528.8" y2="114.4" stroke="#222" stroke-width="0.9" />
<line x1="589" y1="111.2" x2="589" y2="114.4" stroke="#222" stroke-width="0.9" />
<line x1="642.6" y1="111.2" x2="642.6" y2="114.4" stroke="#222" stroke-width="0.9" />
<line x1="576.7" y1="111.2" x2="576.7" y2="126" stroke="#222" stroke-width="0.9" />
<line x1="625.2" y1="111.2" x2="625.2" y2="126" stroke="#222" stroke-width="0.9" />
<line x1="674.3" y1="111.2" x2="674.3" y2="126" stroke="#222" stroke-width="0.9" />
<text transform="translate(528.6,124.2) scale(1,1.1)" font-size="7.3" text-anchor="middle" fill="#141414" stroke="#141414" stroke-width="0.22" >1</text>
<text transform="translate(589,124.2) scale(1,1.1)" font-size="7.3" text-anchor="middle" fill="#141414" stroke="#141414" stroke-width="0.22" >12</text>
<text transform="translate(642.6,124.2) scale(1,1.1)" font-size="7.3" text-anchor="middle" fill="#141414" stroke="#141414" stroke-width="0.22" >30</text>
<text transform="translate(528.8,136.2) scale(1,1.1)" font-size="7.3" text-anchor="middle" fill="#141414" stroke="#141414" stroke-width="0.22" >0</text>
<text transform="translate(577,136.2) scale(1,1.1)" font-size="7.3" text-anchor="middle" fill="#141414" stroke="#141414" stroke-width="0.22" >5,000</text>
<text transform="translate(625.8,136.2) scale(1,1.1)" font-size="7.3" text-anchor="middle" fill="#141414" stroke="#141414" stroke-width="0.22" >10,000</text>
<text transform="translate(674.3,136.2) scale(1,1.1)" font-size="7.3" text-anchor="middle" fill="#141414" stroke="#141414" stroke-width="0.22" >15,000</text>
<text transform="translate(692.8,122) scale(1,1.1)" font-size="8.4" text-anchor="start" fill="#141414" stroke="#141414" stroke-width="0.22" >(Days)</text>
<text transform="translate(692.8,132.4) scale(1,1.1)" font-size="8.4" text-anchor="start" fill="#141414" stroke="#141414" stroke-width="0.22" >(trials)</text>
<text x="485.3" y="162.5" font-size="11" text-anchor="start" fill="#000" font-weight="bold" >f</text>
<line x1="544.5" y1="161.2" x2="569.5" y2="161.2" stroke="#222" stroke-width="0.9" />
<line x1="572.6" y1="161.2" x2="597.9" y2="161.2" stroke="#222" stroke-width="0.9" />
<line x1="601.2" y1="161.2" x2="626" y2="161.2" stroke="#222" stroke-width="0.9" />
<polygon points="556.90,154.90 557.40,156.11 558.71,156.21 557.71,157.06 558.02,158.34 556.90,157.66 555.78,158.34 556.09,157.06 555.09,156.21 556.40,156.11" fill="#111"/>
<polygon points="585.60,154.90 586.10,156.11 587.41,156.21 586.41,157.06 586.72,158.34 585.60,157.66 584.48,158.34 584.79,157.06 583.79,156.21 585.10,156.11" fill="#111"/>
<text transform="translate(613.6,158.8) scale(1,1.1)" font-size="8.4" text-anchor="middle" fill="#141414" stroke="#141414" stroke-width="0.22" >NS</text>
<rect x="533.4" y="236" width="18.300000000000068" height="44.19999999999999" fill="#e1e1e1" stroke="#222" stroke-width="0.85"/>
<rect x="562" y="248.2" width="17.600000000000023" height="32.0" fill="#e1e1e1" stroke="#222" stroke-width="0.85"/>
<rect x="590.6" y="255.4" width="17.699999999999932" height="24.799999999999983" fill="#e1e1e1" stroke="#222" stroke-width="0.85"/>
<rect x="618.9" y="258.5" width="17.5" height="21.69999999999999" fill="#e1e1e1" stroke="#222" stroke-width="0.85"/>
<polyline points="543.20,166.50 571.00,245.80 599.50,261.90 627.70,264.78" fill="none" stroke="#8c8c8c" stroke-width="0.45" stroke-linejoin="round" />
<polyline points="542.50,196.35 571.00,199.80 599.50,188.30 627.70,240.05" fill="none" stroke="#8c8c8c" stroke-width="0.45" stroke-linejoin="round" />
<polyline points="542.50,199.80 571.00,206.70 599.50,257.30 627.70,260.18" fill="none" stroke="#8c8c8c" stroke-width="0.45" stroke-linejoin="round" />
<polyline points="542.50,211.30 571.00,248.68 599.50,263.05 627.70,265.93" fill="none" stroke="#8c8c8c" stroke-width="0.45" stroke-linejoin="round" />
<polyline points="542.50,227.40 571.00,233.15 599.50,234.88 627.70,235.45" fill="none" stroke="#8c8c8c" stroke-width="0.45" stroke-linejoin="round" />
<polyline points="542.50,230.85 571.00,243.50 599.50,249.83 627.70,240.05" fill="none" stroke="#8c8c8c" stroke-width="0.45" stroke-linejoin="round" />
<polyline points="542.50,235.45 571.00,236.60 599.50,257.30 627.70,249.25" fill="none" stroke="#8c8c8c" stroke-width="0.45" stroke-linejoin="round" />
<polyline points="542.50,238.90 571.00,245.80 599.50,252.70 627.70,253.85" fill="none" stroke="#8c8c8c" stroke-width="0.45" stroke-linejoin="round" />
<polyline points="542.50,241.20 571.00,250.40 599.50,259.60 627.70,263.05" fill="none" stroke="#8c8c8c" stroke-width="0.45" stroke-linejoin="round" />
<polyline points="542.50,244.65 571.00,253.85 599.50,264.20 627.70,266.50" fill="none" stroke="#8c8c8c" stroke-width="0.45" stroke-linejoin="round" />
<polyline points="542.50,246.95 571.00,259.60 599.50,267.65 627.70,268.80" fill="none" stroke="#8c8c8c" stroke-width="0.45" stroke-linejoin="round" />
<polyline points="542.50,250.40 571.00,257.30 599.50,256.15 627.70,258.45" fill="none" stroke="#8c8c8c" stroke-width="0.45" stroke-linejoin="round" />
<polyline points="542.50,252.70 571.00,265.35 599.50,269.95 627.70,271.68" fill="none" stroke="#8c8c8c" stroke-width="0.45" stroke-linejoin="round" />
<polyline points="542.50,255.00 571.00,241.20 599.50,261.90 627.70,265.35" fill="none" stroke="#8c8c8c" stroke-width="0.45" stroke-linejoin="round" />
<polyline points="542.50,257.30 571.00,263.05 599.50,265.35 627.70,273.40" fill="none" stroke="#8c8c8c" stroke-width="0.45" stroke-linejoin="round" />
<polyline points="542.50,259.60 571.00,269.95 599.50,268.80 627.70,261.90" fill="none" stroke="#8c8c8c" stroke-width="0.45" stroke-linejoin="round" />
<polyline points="542.50,261.90 571.00,255.00 599.50,272.25 627.70,274.55" fill="none" stroke="#8c8c8c" stroke-width="0.45" stroke-linejoin="round" />
<polyline points="542.50,245.80 571.00,260.75 599.50,251.55 627.70,256.15" fill="none" stroke="#8c8c8c" stroke-width="0.45" stroke-linejoin="round" />
<polyline points="542.50,251.55 571.00,267.65 599.50,258.45 627.70,267.65" fill="none" stroke="#8c8c8c" stroke-width="0.45" stroke-linejoin="round" />
<polyline points="542.50,222.80 571.00,241.20 599.50,246.95 627.70,251.55" fill="none" stroke="#8c8c8c" stroke-width="0.45" stroke-linejoin="round" />
<line x1="542.5" y1="230.4" x2="542.5" y2="241.8" stroke="#222" stroke-width="0.85" />
<line x1="539.2" y1="230.4" x2="545.8" y2="230.4" stroke="#222" stroke-width="0.85" />
<line x1="539.2" y1="241.8" x2="545.8" y2="241.8" stroke="#222" stroke-width="0.85" />
<line x1="571" y1="244.4" x2="571" y2="251.6" stroke="#222" stroke-width="0.85" />
<line x1="567.7" y1="244.4" x2="574.3" y2="244.4" stroke="#222" stroke-width="0.85" />
<line x1="567.7" y1="251.6" x2="574.3" y2="251.6" stroke="#222" stroke-width="0.85" />
<line x1="599.5" y1="251" x2="599.5" y2="259.7" stroke="#222" stroke-width="0.85" />
<line x1="596.2" y1="251" x2="602.8" y2="251" stroke="#222" stroke-width="0.85" />
<line x1="596.2" y1="259.7" x2="602.8" y2="259.7" stroke="#222" stroke-width="0.85" />
<line x1="627.7" y1="255.4" x2="627.7" y2="262.3" stroke="#222" stroke-width="0.85" />
<line x1="624.4000000000001" y1="255.4" x2="631.0" y2="255.4" stroke="#222" stroke-width="0.85" />
<line x1="624.4000000000001" y1="262.3" x2="631.0" y2="262.3" stroke="#222" stroke-width="0.85" />
<path d="M543.2,172.0 q1,-1.6 2.1,-0.6 q1,1 2.1,-0.8" fill="none" stroke="#222" stroke-width="0.75"/>
<path d="M543.2,175.0 q1,-1.6 2.1,-0.6 q1,1 2.1,-0.8" fill="none" stroke="#222" stroke-width="0.75"/>
<line x1="528.3" y1="164.3" x2="528.3" y2="170.4" stroke="#222" stroke-width="0.9" />
<line x1="528.3" y1="174.6" x2="528.3" y2="280.3" stroke="#222" stroke-width="0.9" />
<path d="M526.2,171.4 q1,-1.6 2.1,-0.6 q1,1 2.1,-0.8" fill="none" stroke="#222" stroke-width="0.75"/>
<path d="M526.2,174.4 q1,-1.6 2.1,-0.6 q1,1 2.1,-0.8" fill="none" stroke="#222" stroke-width="0.75"/>
<line x1="525.6" y1="164.7" x2="528.3" y2="164.7" stroke="#222" stroke-width="0.9" />
<text transform="translate(520.5,167.29999999999998) scale(1,1.1)" font-size="7.3" text-anchor="end" fill="#141414" stroke="#141414" stroke-width="0.22" >24</text>
<line x1="525.6" y1="176.5" x2="528.3" y2="176.5" stroke="#222" stroke-width="0.9" />
<text transform="translate(520.5,179.1) scale(1,1.1)" font-size="7.3" text-anchor="end" fill="#141414" stroke="#141414" stroke-width="0.22" >18</text>
<line x1="525.6" y1="211.3" x2="528.3" y2="211.3" stroke="#222" stroke-width="0.9" />
<text transform="translate(520.5,213.9) scale(1,1.1)" font-size="7.3" text-anchor="end" fill="#141414" stroke="#141414" stroke-width="0.22" >12</text>
<line x1="525.6" y1="245.8" x2="528.3" y2="245.8" stroke="#222" stroke-width="0.9" />
<text transform="translate(520.5,248.4) scale(1,1.1)" font-size="7.3" text-anchor="end" fill="#141414" stroke="#141414" stroke-width="0.22" >6</text>
<line x1="525.6" y1="280.3" x2="528.3" y2="280.3" stroke="#222" stroke-width="0.9" />
<text transform="translate(520.5,282.90000000000003) scale(1,1.1)" font-size="7.3" text-anchor="end" fill="#141414" stroke="#141414" stroke-width="0.22" >0</text>
<line x1="525" y1="280.3" x2="643.7" y2="280.3" stroke="#222" stroke-width="0.9" />
<line x1="542.5" y1="280.3" x2="542.5" y2="283" stroke="#222" stroke-width="0.9" />
<text transform="translate(542.5,293.8) scale(1,1.1)" font-size="7.3" text-anchor="middle" fill="#141414" stroke="#141414" stroke-width="0.22" >1</text>
<line x1="571" y1="280.3" x2="571" y2="283" stroke="#222" stroke-width="0.9" />
<text transform="translate(571,293.8) scale(1,1.1)" font-size="7.3" text-anchor="middle" fill="#141414" stroke="#141414" stroke-width="0.22" >2</text>
<line x1="599.5" y1="280.3" x2="599.5" y2="283" stroke="#222" stroke-width="0.9" />
<text transform="translate(599.5,293.8) scale(1,1.1)" font-size="7.3" text-anchor="middle" fill="#141414" stroke="#141414" stroke-width="0.22" >1′</text>
<line x1="627.7" y1="280.3" x2="627.7" y2="283" stroke="#222" stroke-width="0.9" />
<text transform="translate(627.7,293.8) scale(1,1.1)" font-size="7.3" text-anchor="middle" fill="#141414" stroke="#141414" stroke-width="0.22" >2′</text>
<text transform="translate(586.2,308.6) scale(1,1.1)" font-size="9" text-anchor="middle" fill="#141414" stroke="#141414" stroke-width="0.22" >Task contexts</text>
<text x="0" y="0" font-size="9" text-anchor="middle" fill="#141414" stroke="#141414" stroke-width="0.22" transform="translate(493.3,221.9) rotate(-90) scale(1,1.1)">Trials to reach 75%</text>
<text x="0" y="0" font-size="9" text-anchor="middle" fill="#141414" stroke="#141414" stroke-width="0.22" transform="translate(504,221) rotate(-90) scale(1,1.1)">performance (×1,000)</text>
<text x="0" y="320.2" font-size="11" text-anchor="start" fill="#000" font-weight="bold" >g</text>
<text transform="translate(15,327.5) scale(1,1.1)" font-size="9.9" text-anchor="start" fill="#e41e1e" stroke="#e41e1e" stroke-width="0.22" >AAV-DIO-ChRmine</text>
<text transform="translate(110.8,326.9) scale(1,1.1)" font-size="9.4" text-anchor="start" fill="#e41e1e" stroke="#e41e1e" stroke-width="0.22" >Red light (633 nm)</text>
<path d="M41,379 C39.5,385 41,392 47,394.6 L72,394.6 C78,392 79.5,385 78,379 Z" fill="#fbeedd" stroke="#efdcc4" stroke-width="0.6"/>
<path d="M58.6,345 C57.5,342.5 55.5,341.8 53.8,342.8 C51.5,344.5 50,348 47.5,352 C42,358.5 36.5,364 36.5,372 C36.5,380 43,385 51,384.5 C55.5,384 58.6,381 58.6,378 Z" fill="#fbeedd" stroke="#efdcc4" stroke-width="0.6"/>
<path d="M60.4,345 C61.5,342.5 63.5,341.8 65.2,342.8 C67.5,344.5 69,348 71.5,352 C77,358.5 82.5,364 82.5,372 C82.5,380 76,385 68,384.5 C63.5,384 60.4,381 60.4,378 Z" fill="#fbeedd" stroke="#efdcc4" stroke-width="0.6"/>
<circle cx="51.8" cy="357.3" r="3.3" fill="#f2a232"/>
<polygon points="41.2,333 46.9,332 52.8,358.3" fill="#d63a3a" stroke="#7a1a1a" stroke-width="0.4"/>
<text transform="translate(32.8,370.6) scale(1,1.1)" font-size="9" text-anchor="start" fill="#141414" stroke="#141414" stroke-width="0.22" >Left ALM</text>
<text transform="translate(23,406) scale(1,1.1)" font-size="9" text-anchor="start" fill="#141414" stroke="#141414" stroke-width="0.22" >GAD2-Cre mouse</text>
<text transform="translate(127.5,406.4) scale(1,1.1)" font-size="9" text-anchor="start" fill="#141414" stroke="#141414" stroke-width="0.22" >Home cage</text>
<line x1="98" y1="344.5" x2="134.8" y2="353.2" stroke="#222" stroke-width="0.9" stroke-dasharray="1.8,1.9"/>
<line x1="99.7" y1="393.6" x2="146.5" y2="364.8" stroke="#222" stroke-width="0.9" stroke-dasharray="1.8,1.9"/>
<g transform="translate(118,366.8) scale(1.46) translate(-259.5,-58)">
<path d="M259.3,58.3 C262,54.5 268,50.3 276,47.6 C281,46 285,44.6 289,44.2 L299,46 L305,50 L305,84 L291,81 C284,74 277,70 269,66.5 C264,64.5 260.5,62 259.3,58.3 Z" fill="url(#mhc)"/>
<path d="M284.3,45.5 C284.5,42 287,40 290,40 C292.5,40 294,41.5 294,43.5 L293,46.5 Z" fill="#7a7a7a"/>
<ellipse cx="294.5" cy="52.3" rx="5.4" ry="6.3" fill="#c09290" transform="rotate(20 294.5 52.3)"/>
<ellipse cx="295.6" cy="52.8" rx="3.4" ry="4.8" fill="#d8aaa4" transform="rotate(20 295.6 52.8)"/>
<ellipse cx="276" cy="55" rx="2" ry="1.5" fill="#1c1c1c"/>
<circle cx="259.8" cy="58.2" r="1" fill="#e07a8a"/>
<ellipse cx="259.3" cy="63.2" rx="2.6" ry="1.3" fill="#f08ac0" transform="rotate(-20 259.3 63.2)"/>
<circle cx="256" cy="64.3" r="1.1" fill="#7ab0f0"/>
</g>
<path d="M133.5,357 C134,352 140,349.8 148,350 C155,350.2 161.5,352 161.5,356.5 C161.5,361 156,363.5 149,363.5 C141,363.8 133,361.5 133.5,357 Z" fill="#9d9898"/>
<ellipse cx="143" cy="355.7" rx="8.2" ry="4" fill="#8a4a4a" transform="rotate(-6 143 355.7)"/>
<ellipse cx="139.6" cy="363" rx="2.8" ry="1.6" fill="#2a2a2a"/>
<polygon points="142,329.5 135,353.4 150.2,351" fill="#c48686" fill-opacity="0.85"/>
<circle cx="143.1" cy="355.7" r="1.2" fill="#ff9a1a"/>
<line x1="100.9" y1="378.8" x2="112.9" y2="374.6" stroke="#555" stroke-width="2" />
<line x1="102.8" y1="385.1" x2="115" y2="381.2" stroke="#555" stroke-width="2" />
<path d="M126.4,373 L126.4,345 Q126.4,342.3 129,341.8 L156,335.6 Q158.4,335.1 158.8,337.5 L159.4,340.5 M126.4,373 Q127.5,379 131,382.5 Q135,387 140,388.5 L151,389" fill="none" stroke="#222" stroke-width="0.8"/>
<text transform="translate(71,429.5) scale(1,1.1)" font-size="9" text-anchor="end" fill="#141414" stroke="#141414" stroke-width="0.22" >Pole</text>
<text transform="translate(70.7,442.6) scale(1,1.1)" font-size="9" text-anchor="end" fill="#141414" stroke="#141414" stroke-width="0.22" >Go cue</text>
<polyline points="73.30,428.20 82.20,428.20 85.50,421.50 101.10,421.50 105.50,428.20 147.80,428.20" fill="none" stroke="#333" stroke-width="0.8" stroke-linejoin="round" />
<polyline points="73.30,439.30 123.80,439.30 123.80,433.30 126.00,433.30 126.00,439.30 147.80,439.30" fill="none" stroke="#333" stroke-width="0.8" stroke-linejoin="round" />
<line x1="82.2" y1="417.8" x2="82.2" y2="450" stroke="#222" stroke-width="0.9" stroke-dasharray="1.2,1.4"/>
<line x1="102.9" y1="417.8" x2="102.9" y2="450" stroke="#222" stroke-width="0.9" stroke-dasharray="1.2,1.4"/>
<line x1="123.8" y1="417.8" x2="123.8" y2="450" stroke="#222" stroke-width="0.9" stroke-dasharray="1.2,1.4"/>
<line x1="82.2" y1="441.8" x2="102.9" y2="441.8" stroke="#d42020" stroke-width="1.5" />
<line x1="102.9" y1="445.6" x2="123.8" y2="445.6" stroke="#d42020" stroke-width="1.5" />
<line x1="123.8" y1="448.9" x2="145.5" y2="448.9" stroke="#d42020" stroke-width="1.5" />
<text transform="translate(83.3,451.5) scale(1,1.1)" font-size="9" text-anchor="start" fill="#141414" stroke="#141414" stroke-width="0.22" >1.3 s</text>
<text transform="translate(91.7,461.8) scale(1,1.1)" font-size="9" text-anchor="middle" fill="#141414" stroke="#141414" stroke-width="0.22" >S</text>
<text transform="translate(113.2,461.8) scale(1,1.1)" font-size="9" text-anchor="middle" fill="#141414" stroke="#141414" stroke-width="0.22" >D</text>
<text transform="translate(137.4,461.8) scale(1,1.1)" font-size="9" text-anchor="middle" fill="#141414" stroke="#141414" stroke-width="0.22" >R</text>
<text x="223.3" y="321.7" font-size="11" text-anchor="start" fill="#000" font-weight="bold" >h</text>
<text transform="translate(248.7,327.3) scale(1,1.1)" font-size="9" text-anchor="start" fill="#141414" stroke="#141414" stroke-width="0.22" >Example mouse</text>
<text transform="translate(350.9,324.4) scale(1,1.1)" font-size="9" text-anchor="start" fill="#141414" stroke="#141414" stroke-width="0.22" >Photostim. block</text>
<text transform="translate(338.7,335.5) scale(1,1.1)" font-size="9" text-anchor="start" fill="#141414" stroke="#141414" stroke-width="0.22" >Context 1</text>
<text transform="translate(394.9,335.5) scale(1,1.1)" font-size="9" text-anchor="start" fill="#141414" stroke="#141414" stroke-width="0.22" >Context 2</text>
<rect x="342.8" y="340" width="30.5" height="101.5" fill="#fce1e4"/>
<rect x="402.6" y="340" width="23.9" height="101.5" fill="#fce1e4"/>
<line x1="266.3" y1="340" x2="266.3" y2="441.5" stroke="#c8c8c8" stroke-width="0.7" />
<line x1="283" y1="340" x2="283" y2="441.5" stroke="#c8c8c8" stroke-width="0.7" />
<line x1="293.5" y1="340" x2="293.5" y2="441.5" stroke="#c8c8c8" stroke-width="0.7" />
<line x1="307.4" y1="340" x2="307.4" y2="441.5" stroke="#c8c8c8" stroke-width="0.7" />
<line x1="257" y1="365.375" x2="426.5" y2="365.375" stroke="#333" stroke-width="0.8" stroke-dasharray="2,3.7"/>
<line x1="257" y1="390.75" x2="426.5" y2="390.75" stroke="#333" stroke-width="0.8" stroke-dasharray="2,3.7"/>
<polyline points="257.00,395.07 257.15,382.09 257.31,383.28 257.46,384.71 257.62,370.18 257.77,381.96 257.92,390.31 258.08,376.64 258.23,385.89 258.38,380.55 258.54,385.23 258.69,382.31 258.85,376.41 259.00,385.15 259.15,385.05 259.31,378.77 259.46,377.48 259.62,384.78 259.77,386.54 259.92,380.66 260.08,390.96 260.23,376.56 260.38,376.66 260.54,381.62 260.69,383.23 260.85,386.35 261.00,382.12 261.17,378.99 261.33,390.67 261.50,381.18 261.67,392.17 261.83,383.70 262.00,395.78 262.17,396.31 262.33,391.47 262.50,401.27 262.67,388.43 262.83,379.70 263.00,387.28 263.15,393.49 263.30,383.41 263.45,382.28 263.60,381.77 263.75,371.77 263.90,368.19 264.05,374.99 264.20,364.53 264.35,357.03 264.50,362.20 264.66,360.34 264.82,357.25 264.98,346.14 265.14,357.88 265.30,341.01 265.48,348.71 265.65,355.21 265.82,366.97 266.00,370.86 266.80,412.05 266.97,414.99 267.14,414.10 267.31,414.36 267.49,411.69 267.66,410.53 267.83,423.64 268.00,419.88 268.15,417.86 268.31,418.32 268.46,417.56 268.62,414.73 268.77,418.46 268.92,415.94 269.08,410.01 269.23,422.71 269.38,403.41 269.54,433.70 269.69,417.82 269.85,428.61 270.00,420.30 270.17,418.80 270.34,426.07 270.51,415.12 270.69,402.89 270.86,421.64 271.03,415.59 271.20,412.00 271.36,411.35 271.52,407.93 271.68,406.27 271.84,403.32 272.00,406.37 272.15,409.74 272.31,394.62 272.46,401.70 272.62,394.33 272.77,394.33 272.92,394.16 273.08,391.17 273.23,401.62 273.38,394.40 273.54,400.24 273.69,397.35 273.85,392.77 274.00,401.62 274.15,388.83 274.31,394.09 274.46,395.00 274.62,392.97 274.77,392.69 274.92,395.77 275.08,386.03 275.23,401.06 275.38,390.71 275.54,402.26 275.69,404.68 275.85,397.26 276.00,394.23 276.15,389.41 276.31,398.14 276.46,390.82 276.62,393.30 276.77,390.32 276.92,386.40 277.08,391.46 277.23,392.74 277.38,381.67 277.54,394.59 277.69,385.09 277.85,389.85 278.00,391.30 278.15,391.12 278.31,383.06 278.46,388.58 278.62,386.97 278.77,387.40 278.92,382.43 279.08,383.66 279.23,383.46 279.38,389.08 279.54,394.99 279.69,387.01 279.85,388.01 280.00,379.23 280.16,390.98 280.31,381.16 280.47,375.16 280.62,382.26 280.78,366.74 280.94,371.41 281.09,369.13 281.25,367.96 281.41,379.99 281.56,381.96 281.72,371.75 281.88,372.33 282.03,374.26 282.19,365.37 282.34,369.53 282.50,364.89 283.50,415.37 283.65,415.30 283.80,423.84 283.95,413.63 284.10,408.69 284.25,416.00 284.40,409.19 284.55,407.31 284.70,397.34 284.85,403.77 285.00,399.29 285.15,403.10 285.31,398.92 285.46,410.96 285.62,403.80 285.77,400.92 285.92,405.53 286.08,398.09 286.23,393.49 286.38,398.18 286.54,396.36 286.69,390.62 286.85,389.90 287.00,392.18 287.15,395.26 287.31,396.62 287.46,390.00 287.62,392.78 287.77,393.37 287.92,393.67 288.08,387.80 288.23,395.34 288.38,398.10 288.54,397.55 288.69,399.07 288.85,386.96 289.00,399.91 289.15,392.11 289.31,393.64 289.46,395.53 289.62,394.00 289.77,374.75 289.92,382.31 290.08,382.93 290.23,376.92 290.38,378.96 290.54,380.72 290.69,387.83 290.85,396.47 291.00,371.99 291.15,381.22 291.31,379.92 291.46,376.46 291.62,371.73 291.77,372.43 291.92,369.96 292.08,369.78 292.23,379.91 292.38,365.24 292.54,368.71 292.69,367.94 292.85,379.93 293.00,372.85 294.00,411.42 294.15,407.26 294.31,409.88 294.46,411.90 294.62,406.46 294.77,407.58 294.92,406.64 295.08,401.40 295.23,401.22 295.38,394.86 295.54,405.27 295.69,403.33 295.85,391.28 296.00,399.66 296.15,382.55 296.31,391.02 296.46,388.80 296.62,400.81 296.77,387.10 296.92,390.67 297.08,398.73 297.23,404.29 297.38,398.18 297.54,403.07 297.69,393.20 297.85,393.43 298.00,387.42 298.15,398.31 298.31,390.39 298.46,398.65 298.62,392.25 298.77,391.14 298.92,395.95 299.08,384.61 299.23,395.90 299.38,396.32 299.54,382.12 299.69,398.14 299.85,393.06 300.00,399.00 300.15,390.68 300.31,375.28 300.46,393.78 300.62,393.09 300.77,391.92 300.92,373.94 301.08,381.56 301.23,387.45 301.38,380.66 301.54,376.68 301.69,379.39 301.85,385.26 302.00,384.04 302.15,388.23 302.31,382.77 302.46,374.49 302.62,376.09 302.77,368.52 302.92,379.09 303.08,386.40 303.23,366.64 303.38,378.13 303.54,385.14 303.69,380.39 303.85,384.71 304.00,379.58 304.15,371.58 304.30,389.07 304.45,380.00 304.60,375.17 304.75,375.30 304.90,376.79 305.05,375.45 305.20,363.12 305.35,373.41 305.50,369.59 305.65,378.30 305.80,371.36 305.95,370.50 306.10,371.20 306.25,371.20 306.40,374.33 306.55,377.19 306.70,369.47 306.85,370.34 307.00,368.87 308.00,418.53 308.15,412.06 308.31,406.24 308.46,412.50 308.62,409.09 308.77,405.22 308.92,407.69 309.08,398.58 309.23,403.30 309.38,403.09 309.54,398.20 309.69,410.42 309.85,404.40 310.00,404.02 310.15,407.35 310.31,401.52 310.46,403.09 310.62,397.33 310.77,398.86 310.92,408.05 311.08,400.38 311.23,386.37 311.38,396.45 311.54,401.63 311.69,397.33 311.85,410.88 312.00,392.84 312.15,391.86 312.31,390.15 312.46,391.57 312.62,395.82 312.77,389.79 312.92,402.11 313.08,392.57 313.23,397.85 313.38,395.61 313.54,390.46 313.69,383.33 313.85,389.28 314.00,381.57 314.15,388.55 314.31,387.87 314.46,385.62 314.62,378.37 314.77,392.81 314.92,386.58 315.08,380.58 315.23,383.40 315.38,389.56 315.54,375.58 315.69,389.32 315.85,380.55 316.00,381.70 316.15,389.57 316.31,376.27 316.46,385.93 316.62,384.86 316.77,376.25 316.92,375.79 317.08,374.38 317.23,368.21 317.38,378.75 317.54,367.68 317.69,385.81 317.85,376.12 318.00,383.18 318.15,377.39 318.31,383.66 318.46,369.87 318.62,383.01 318.77,379.07 318.92,371.04 319.08,372.98 319.23,379.51 319.38,369.63 319.54,375.73 319.69,390.72 319.85,374.62 320.00,380.69 320.16,378.92 320.31,364.70 320.47,383.80 320.62,391.60 320.78,394.70 320.94,387.35 321.09,377.91 321.25,393.37 321.41,389.78 321.56,402.73 321.72,387.62 321.88,406.12 322.03,402.35 322.19,400.96 322.34,397.19 322.50,393.36 322.67,394.46 322.83,383.70 323.00,365.36 323.17,376.03 323.33,366.76 323.50,357.27 323.67,358.38 323.83,365.54 324.00,357.12 324.15,367.05 324.31,355.90 324.46,355.14 324.62,359.30 324.77,363.64 324.92,359.17 325.08,362.96 325.23,348.79 325.38,355.61 325.54,360.96 325.69,362.43 325.85,365.31 326.00,347.48 326.15,356.53 326.31,346.03 326.46,353.77 326.62,356.96 326.77,343.92 326.92,351.91 327.08,350.02 327.23,352.19 327.38,355.08 327.54,349.99 327.69,344.08 327.85,347.84 328.00,353.79 328.15,347.89 328.31,360.92 328.46,346.42 328.62,344.85 328.77,345.65 328.92,348.71 329.08,345.80 329.23,348.77 329.38,357.45 329.54,344.14 329.69,346.33 329.85,356.24 330.00,365.53 330.15,347.54 330.30,351.78 330.45,358.06 330.60,353.96 330.75,345.63 330.90,341.83 331.05,351.38 331.20,343.87 331.35,353.38 331.50,348.94 331.65,352.04 331.80,351.80 331.95,357.67 332.10,351.81 332.25,349.17 332.40,353.66 332.55,347.29 332.70,355.51 332.85,342.54 333.00,360.17 333.15,341.87 333.30,352.93 333.45,341.01 333.60,352.11 333.75,351.98 333.90,352.80 334.05,345.76 334.20,347.89 334.35,363.06 334.50,349.37 334.65,358.20 334.80,349.59 334.95,351.50 335.10,344.53 335.25,341.25 335.40,356.26 335.55,341.01 335.70,350.19 335.85,350.90 336.00,343.97 336.15,356.05 336.30,342.99 336.45,341.01 336.60,351.48 336.75,348.21 336.90,350.80 337.05,354.63 337.20,348.95 337.35,357.65 337.50,351.17 337.65,362.71 337.80,358.57 337.95,343.40 338.10,347.52 338.25,350.07 338.40,354.33 338.55,356.12 338.70,344.98 338.85,348.79 339.00,344.23 339.15,349.68 339.31,347.22 339.46,349.94 339.62,345.05 339.77,345.52 339.92,361.18 340.08,348.44 340.23,356.68 340.38,357.13 340.54,353.40 340.69,352.25 340.85,349.88 341.00,349.48 341.15,348.14 341.31,344.45 341.46,344.81 341.62,347.82 341.77,341.65 341.92,355.81 342.08,342.14 342.23,351.33 342.38,349.81 342.54,354.03 342.69,344.36 342.85,347.15 343.00,352.65 343.15,343.62 343.31,356.98 343.46,348.91 343.62,354.69 343.77,353.30 343.92,354.91 344.08,362.71 344.23,356.65 344.38,360.11 344.54,353.60 344.69,355.73 344.85,346.85 345.00,358.25 345.17,360.16 345.33,357.82 345.50,366.22 345.67,369.29 345.83,366.04 346.00,353.36 346.15,360.98 346.31,357.35 346.46,356.67 346.62,367.95 346.77,364.67 346.92,365.78 347.08,363.07 347.23,366.47 347.38,371.64 347.54,359.49 347.69,364.03 347.85,358.21 348.00,347.00 348.15,354.56 348.31,362.23 348.46,362.37 348.62,365.78 348.77,352.79 348.92,343.90 349.08,348.09 349.23,350.54 349.38,352.23 349.54,345.38 349.69,359.06 349.85,360.68 350.00,357.03 350.15,359.72 350.31,363.35 350.46,352.96 350.62,345.19 350.77,350.02 350.92,351.49 351.08,351.50 351.23,359.61 351.38,354.58 351.54,343.27 351.69,354.50 351.85,350.48 352.00,356.01 352.15,356.67 352.30,356.83 352.45,360.57 352.60,353.43 352.75,350.74 352.90,360.85 353.05,343.92 353.20,347.68 353.35,347.80 353.50,341.01 353.65,343.84 353.80,356.43 353.95,348.33 354.10,346.84 354.25,353.80 354.40,357.49 354.55,348.23 354.70,341.81 354.85,345.77 355.00,356.51 355.15,349.20 355.30,357.23 355.45,349.44 355.60,358.53 355.75,355.34 355.90,349.94 356.05,350.30 356.20,357.97 356.35,361.29 356.50,356.16 356.65,352.03 356.80,344.48 356.95,361.41 357.10,352.24 357.25,346.93 357.40,351.10 357.55,342.11 357.70,357.94 357.85,355.89 358.00,355.88 358.15,345.48 358.31,350.00 358.46,348.50 358.62,351.20 358.77,352.80 358.92,353.17 359.08,341.01 359.23,351.39 359.38,356.77 359.54,353.02 359.69,352.67 359.85,362.93 360.00,360.64 360.15,361.16 360.31,355.98 360.46,358.93 360.62,348.50 360.77,351.81 360.92,347.25 361.08,350.25 361.23,351.21 361.38,355.59 361.54,346.41 361.69,357.52 361.85,352.55 362.00,353.45 362.15,356.92 362.30,341.01 362.45,363.28 362.60,354.15 362.75,354.61 362.90,360.06 363.05,346.81 363.20,350.41 363.35,355.75 363.50,342.37 363.65,353.47 363.80,354.28 363.95,341.01 364.10,352.83 364.25,362.18 364.40,363.59 364.55,356.23 364.70,358.18 364.85,360.50 365.00,352.66 365.15,362.63 365.30,354.02 365.45,353.50 365.60,358.06 365.75,363.41 365.90,345.18 366.05,354.34 366.20,350.57 366.35,354.97 366.50,346.73 366.65,357.57 366.80,353.30 366.95,352.39 367.10,353.10 367.25,350.30 367.40,359.69 367.55,356.82 367.70,355.19 367.85,348.41 368.00,359.19 368.15,345.23 368.31,355.37 368.46,361.52 368.62,358.82 368.77,354.53 368.92,357.98 369.08,358.62 369.23,362.63 369.38,360.61 369.54,354.84 369.69,356.86 369.85,355.42 370.00,362.21 370.15,362.06 370.31,367.80 370.46,363.88 370.62,355.50 370.77,363.26 370.92,362.10 371.08,359.94 371.23,361.71 371.38,373.92 371.54,363.44 371.69,360.22 371.85,357.48 372.00,355.01 372.17,368.15 372.33,371.49 372.50,379.77 372.67,375.91 372.83,376.68 373.00,387.76 373.17,391.12 373.33,396.96 373.50,395.66 373.67,393.94 373.83,410.75 374.00,399.38 374.17,398.95 374.33,413.95 374.50,408.93 374.67,417.53 374.83,419.47 375.00,422.50 375.17,425.64 375.33,423.33 375.50,436.55 375.67,435.34 375.83,429.84 376.00,435.51 377.00,419.03 377.15,412.99 377.30,413.11 377.45,396.40 377.60,409.08 377.75,421.29 377.90,410.28 378.05,415.41 378.20,407.49 378.35,408.18 378.50,399.84 378.65,406.11 378.80,408.46 378.95,404.02 379.10,405.22 379.25,407.98 379.40,400.28 379.55,409.14 379.70,410.56 379.85,404.82 380.00,416.05 380.15,412.08 380.30,396.46 380.45,410.16 380.61,399.27 380.76,400.20 380.91,404.59 381.06,406.28 381.21,405.66 381.36,411.39 381.52,400.41 381.67,398.89 381.82,395.16 381.97,400.35 382.12,400.38 382.27,404.54 382.42,394.90 382.58,397.82 382.73,402.37 382.88,399.74 383.03,396.71 383.18,399.76 383.33,402.57 383.48,399.64 383.64,397.31 383.79,397.57 383.94,390.34 384.09,391.62 384.24,393.97 384.39,398.11 384.55,393.63 384.70,399.36 384.85,400.05 385.00,391.64 385.15,391.41 385.30,401.52 385.45,391.93 385.61,394.96 385.76,391.35 385.91,400.33 386.06,392.07 386.21,388.88 386.36,390.62 386.52,384.55 386.67,390.58 386.82,393.37 386.97,398.18 387.12,387.67 387.27,387.03 387.42,392.40 387.58,387.17 387.73,389.03 387.88,383.53 388.03,388.01 388.18,388.41 388.33,399.60 388.48,387.23 388.64,385.25 388.79,380.45 388.94,391.61 389.09,393.35 389.24,379.93 389.39,384.99 389.55,387.90 389.70,387.03 389.85,387.02 390.00,389.58 390.15,383.37 390.30,378.75 390.45,383.56 390.61,386.34 390.76,388.71 390.91,381.58 391.06,374.58 391.21,386.05 391.36,374.11 391.52,375.97 391.67,382.75 391.82,386.98 391.97,374.98 392.12,377.82 392.27,371.70 392.42,385.92 392.58,375.93 392.73,383.22 392.88,364.55 393.03,378.31 393.18,372.72 393.33,376.87 393.48,369.10 393.64,372.22 393.79,371.21 393.94,376.85 394.09,376.38 394.24,370.47 394.39,369.28 394.55,374.43 394.70,373.87 394.85,380.85 395.00,368.24 395.15,379.93 395.30,370.35 395.45,375.99 395.61,371.66 395.76,378.45 395.91,374.30 396.06,370.00 396.21,368.25 396.36,370.19 396.52,372.46 396.67,369.74 396.82,374.91 396.97,361.91 397.12,358.70 397.27,373.21 397.42,373.34 397.58,372.95 397.73,365.44 397.88,372.64 398.03,371.28 398.18,372.39 398.33,362.61 398.48,369.06 398.64,360.40 398.79,362.88 398.94,364.19 399.09,357.87 399.24,367.84 399.39,359.74 399.55,364.74 399.70,363.38 399.85,363.00 400.00,368.03 400.15,372.23 400.30,361.75 400.45,362.43 400.60,364.79 400.75,353.63 400.90,372.33 401.05,357.84 401.20,365.05 401.35,375.08 401.50,367.10 401.65,363.00 401.80,364.85 401.95,373.07 402.10,357.97 402.25,367.43 402.40,368.52 402.55,359.82 402.70,374.81 402.85,356.64 403.00,371.57 403.15,372.18 403.30,369.09 403.45,364.58 403.60,357.98 403.75,370.93 403.90,366.40 404.05,363.86 404.20,369.38 404.35,364.74 404.50,365.81 404.65,370.60 404.80,362.55 404.95,353.68 405.10,363.00 405.25,363.74 405.40,358.94 405.55,357.28 405.70,362.68 405.85,363.17 406.00,352.02 406.15,369.61 406.30,361.13 406.45,362.10 406.60,361.24 406.75,362.83 406.90,364.82 407.05,360.93 407.20,375.12 407.35,366.28 407.50,364.54 407.65,361.06 407.80,354.04 407.95,363.94 408.10,361.54 408.25,367.17 408.40,369.00 408.55,366.11 408.70,362.23 408.85,364.00 409.00,361.27 409.15,362.37 409.30,370.29 409.45,361.69 409.60,368.82 409.75,364.42 409.90,360.98 410.05,363.26 410.20,352.20 410.35,360.50 410.50,363.66 410.65,360.51 410.80,360.02 410.95,360.14 411.10,362.28 411.25,361.19 411.40,359.00 411.55,354.78 411.70,347.15 411.85,360.61 412.00,359.93 412.15,349.78 412.30,355.56 412.45,354.49 412.60,359.57 412.75,352.20 412.90,358.46 413.05,358.37 413.20,364.96 413.35,349.35 413.50,358.02 413.65,356.91 413.80,347.37 413.95,362.66 414.10,369.98 414.25,362.15 414.40,363.89 414.55,355.24 414.70,355.86 414.85,351.78 415.00,362.39 415.15,361.56 415.30,356.18 415.45,358.61 415.60,359.58 415.75,358.96 415.90,368.39 416.05,358.39 416.20,352.04 416.35,357.01 416.50,363.03 416.65,356.88 416.80,358.87 416.95,354.53 417.10,352.15 417.25,342.05 417.40,351.70 417.55,358.51 417.70,356.40 417.85,355.99 418.00,358.15 418.15,354.84 418.30,354.52 418.45,353.78 418.60,354.53 418.75,357.53 418.90,359.92 419.05,353.51 419.20,359.30 419.35,350.59 419.50,359.49 419.65,353.24 419.80,341.74 419.95,351.77 420.10,359.27 420.25,350.83 420.40,344.94 420.55,366.07 420.70,350.79 420.85,343.61 421.00,341.01 421.15,355.69 421.31,349.17 421.46,346.96 421.62,349.12 421.77,343.44 421.92,353.10 422.08,357.20 422.23,341.01 422.38,362.79 422.54,351.39 422.69,349.64 422.85,356.05 423.00,359.83 423.15,357.03 423.31,354.11 423.46,349.01 423.62,352.28 423.77,348.01 423.92,351.35 424.08,341.01 424.23,351.66 424.38,347.29 424.54,343.95 424.69,347.38 424.85,350.62 425.00,349.22 425.15,349.10 425.30,345.14 425.45,344.08 425.60,342.93 425.75,359.96 425.90,343.73 426.05,357.70 426.20,354.76 426.35,350.90 426.50,351.96" fill="none" stroke="#080808" stroke-width="0.6" stroke-linejoin="round" />
<line x1="377.8" y1="402.93" x2="377.8" y2="442" stroke="#111" stroke-width="0.9" />
<polyline points="343.00,371.77 343.18,368.74 343.36,380.31 343.55,367.63 343.73,370.70 343.91,371.88 344.09,366.93 344.27,371.48 344.45,374.13 344.64,366.64 344.82,362.70 345.00,378.02 345.18,371.19 345.36,379.11 345.55,374.59 345.73,364.18 345.91,371.45 346.09,376.50 346.27,375.42 346.45,372.53 346.64,380.47 346.82,380.81 347.00,384.37 347.18,384.97 347.36,374.53 347.55,385.42 347.73,380.63 347.91,379.50 348.09,379.29 348.27,380.39 348.45,372.74 348.64,382.65 348.82,380.97 349.00,375.86 349.20,382.47 349.40,375.51 349.60,373.64 349.80,373.25 350.00,375.14 350.18,374.06 350.36,380.24 350.55,377.95 350.73,376.94 350.91,377.14 351.09,393.33 351.27,391.42 351.45,391.08 351.64,392.98 351.82,395.87 352.00,400.74 352.18,403.37 352.36,407.00 352.55,393.38 352.73,396.12 352.91,399.26 353.09,397.76 353.27,390.94 353.45,388.12 353.64,399.71 353.82,401.01 354.00,387.01 354.18,403.02 354.36,395.17 354.55,390.06 354.73,396.13 354.91,395.18 355.09,401.01 355.27,401.51 355.45,405.37 355.64,404.26 355.82,398.02 356.00,399.22 356.18,391.83 356.36,398.02 356.55,396.35 356.73,401.78 356.91,392.06 357.09,392.05 357.27,397.09 357.45,389.03 357.64,389.95 357.82,389.56 358.00,388.02 358.18,390.59 358.36,397.47 358.55,390.66 358.73,385.42 358.91,386.55 359.09,390.91 359.27,395.58 359.45,388.69 359.64,389.35 359.82,391.21 360.00,399.76 360.18,392.41 360.36,395.09 360.55,392.37 360.73,386.14 360.91,389.22 361.09,381.49 361.27,382.73 361.45,378.97 361.64,370.00 361.82,372.03 362.00,374.55 362.18,377.26 362.36,380.31 362.55,376.81 362.73,379.80 362.91,375.44 363.09,380.83 363.27,375.71 363.45,376.32 363.64,386.17 363.82,380.06 364.00,387.54 364.18,382.63 364.36,377.72 364.55,380.47 364.73,388.12 364.91,372.30 365.09,381.53 365.27,387.71 365.45,380.25 365.64,386.81 365.82,393.67 366.00,380.33 366.18,381.68 366.36,374.11 366.55,386.65 366.73,373.61 366.91,387.94 367.09,377.14 367.27,389.84 367.45,387.71 367.64,384.21 367.82,392.00 368.00,393.43 368.18,390.18 368.36,387.18 368.55,384.35 368.73,384.43 368.91,387.56 369.09,388.67 369.27,385.30 369.45,382.90 369.64,376.89 369.82,378.64 370.00,377.56 370.18,380.17 370.36,377.51 370.55,367.58 370.73,378.61 370.91,386.26 371.09,383.11 371.27,376.01 371.45,385.50 371.64,391.18 371.82,393.50 372.00,386.04 372.17,396.14 372.34,393.07 372.51,396.07 372.69,399.22 372.86,400.26 373.03,403.62 373.20,398.87" fill="none" stroke="#d01010" stroke-width="0.6" stroke-linejoin="round" />
<polyline points="402.80,390.54 402.98,385.30 403.17,389.27 403.35,384.11 403.53,382.29 403.72,390.02 403.90,391.67 404.08,389.86 404.27,379.07 404.45,387.79 404.63,394.27 404.82,385.01 405.00,390.70 405.18,379.49 405.36,381.87 405.55,376.98 405.73,392.21 405.91,380.71 406.09,378.17 406.27,388.15 406.45,368.90 406.64,380.27 406.82,375.16 407.00,379.14 407.18,378.51 407.36,386.02 407.55,379.40 407.73,382.80 407.91,373.30 408.09,384.30 408.27,392.76 408.45,387.11 408.64,386.34 408.82,388.65 409.00,393.55 409.18,390.11 409.36,384.69 409.55,377.49 409.73,381.41 409.91,381.53 410.09,389.83 410.27,385.21 410.45,378.26 410.64,370.74 410.82,380.56 411.00,368.97 411.18,372.78 411.36,374.49 411.55,376.07 411.73,381.55 411.91,378.47 412.09,371.51 412.27,379.72 412.45,379.75 412.64,378.25 412.82,394.03 413.00,380.00 413.18,384.81 413.36,384.11 413.55,384.64 413.73,378.38 413.91,385.81 414.09,368.66 414.27,377.39 414.45,381.14 414.64,375.64 414.82,375.94 415.00,361.73 415.18,377.41 415.36,377.25 415.55,380.02 415.73,368.37 415.91,385.51 416.09,378.95 416.27,377.12 416.45,374.44 416.64,383.64 416.82,386.87 417.00,387.94 417.20,388.80 417.40,396.87 417.60,393.59 417.80,403.95 418.00,399.91 418.18,398.06 418.36,396.82 418.55,394.12 418.73,395.68 418.91,389.70 419.09,380.90 419.27,388.49 419.45,388.02 419.64,385.34 419.82,375.32 420.00,384.29 420.18,378.82 420.36,372.31 420.55,374.04 420.73,374.33 420.91,370.44 421.09,371.64 421.27,371.05 421.45,371.51 421.64,368.20 421.82,369.40 422.00,371.93 422.18,372.21 422.36,365.62 422.55,373.00 422.73,369.27 422.91,379.74 423.09,381.89 423.27,375.79 423.45,388.37 423.64,374.98 423.82,378.50 424.00,386.45 424.18,377.59 424.36,385.71 424.55,375.89 424.73,382.46 424.91,370.91 425.09,371.88 425.27,371.71 425.45,373.90 425.64,367.78 425.82,373.13 426.00,369.27 426.25,360.98 426.50,364.36" fill="none" stroke="#d01010" stroke-width="0.6" stroke-linejoin="round" />
<line x1="257" y1="340" x2="257" y2="441.5" stroke="#222" stroke-width="0.9" />
<line x1="256.6" y1="442.4" x2="426.5" y2="442.4" stroke="#222" stroke-width="1" />
<line x1="254.2" y1="340.0" x2="257" y2="340.0" stroke="#222" stroke-width="0.9" />
<text transform="translate(251.3,342.6) scale(1,1.1)" font-size="7.3" text-anchor="end" fill="#141414" stroke="#141414" stroke-width="0.22" >100</text>
<line x1="254.2" y1="365.375" x2="257" y2="365.375" stroke="#222" stroke-width="0.9" />
<text transform="translate(251.3,367.975) scale(1,1.1)" font-size="7.3" text-anchor="end" fill="#141414" stroke="#141414" stroke-width="0.22" >75</text>
<line x1="254.2" y1="390.75" x2="257" y2="390.75" stroke="#222" stroke-width="0.9" />
<text transform="translate(251.3,393.35) scale(1,1.1)" font-size="7.3" text-anchor="end" fill="#141414" stroke="#141414" stroke-width="0.22" >50</text>
<line x1="254.2" y1="441.5" x2="257" y2="441.5" stroke="#222" stroke-width="0.9" />
<text transform="translate(251.3,444.1) scale(1,1.1)" font-size="7.3" text-anchor="end" fill="#141414" stroke="#141414" stroke-width="0.22" >0</text>
<text x="0" y="0" font-size="9" text-anchor="middle" fill="#141414" stroke="#141414" stroke-width="0.22" transform="translate(232.2,390) rotate(-90) scale(1,1.1)">Correct rate (%)</text>
<line x1="266.3" y1="442" x2="266.3" y2="444.6" stroke="#222" stroke-width="0.9" />
<text transform="translate(266.3,454.8) scale(1,1.1)" font-size="7.3" text-anchor="middle" fill="#141414" stroke="#141414" stroke-width="0.22" >1</text>
<line x1="283" y1="442" x2="283" y2="444.6" stroke="#222" stroke-width="0.9" />
<text transform="translate(283,454.8) scale(1,1.1)" font-size="7.3" text-anchor="middle" fill="#141414" stroke="#141414" stroke-width="0.22" >6</text>
<line x1="293.5" y1="442" x2="293.5" y2="444.6" stroke="#222" stroke-width="0.9" />
<text transform="translate(293.5,454.8) scale(1,1.1)" font-size="7.3" text-anchor="middle" fill="#141414" stroke="#141414" stroke-width="0.22" >10</text>
<line x1="340.1" y1="442" x2="340.1" y2="444.6" stroke="#222" stroke-width="0.9" />
<text transform="translate(340.1,454.8) scale(1,1.1)" font-size="7.3" text-anchor="middle" fill="#141414" stroke="#141414" stroke-width="0.22" >28</text>
<line x1="373.3" y1="442" x2="373.3" y2="444.6" stroke="#222" stroke-width="0.9" />
<text transform="translate(373.3,454.8) scale(1,1.1)" font-size="7.3" text-anchor="middle" fill="#141414" stroke="#141414" stroke-width="0.22" >43</text>
<line x1="402.3" y1="442" x2="402.3" y2="444.6" stroke="#222" stroke-width="0.9" />
<text transform="translate(402.3,454.8) scale(1,1.1)" font-size="7.3" text-anchor="middle" fill="#141414" stroke="#141414" stroke-width="0.22" >60</text>
<line x1="306.1" y1="442" x2="306.1" y2="456.9" stroke="#222" stroke-width="0.9" />
<line x1="346.2" y1="442" x2="346.2" y2="456.9" stroke="#222" stroke-width="0.9" />
<line x1="386.5" y1="442" x2="386.5" y2="456.9" stroke="#222" stroke-width="0.9" />
<line x1="426" y1="442" x2="426" y2="456.9" stroke="#222" stroke-width="0.9" />
<text transform="translate(266.3,467.4) scale(1,1.1)" font-size="7.3" text-anchor="middle" fill="#141414" stroke="#141414" stroke-width="0.22" >0</text>
<text transform="translate(306.1,467.4) scale(1,1.1)" font-size="7.3" text-anchor="middle" fill="#141414" stroke="#141414" stroke-width="0.22" >10,000</text>
<text transform="translate(345.8,467.4) scale(1,1.1)" font-size="7.3" text-anchor="middle" fill="#141414" stroke="#141414" stroke-width="0.22" >20,000</text>
<text transform="translate(386.4,467.4) scale(1,1.1)" font-size="7.3" text-anchor="middle" fill="#141414" stroke="#141414" stroke-width="0.22" >30,000</text>
<text transform="translate(425.9,467.4) scale(1,1.1)" font-size="7.3" text-anchor="middle" fill="#141414" stroke="#141414" stroke-width="0.22" >40,000</text>
<text transform="translate(447,453.6) scale(1,1.1)" font-size="8.4" text-anchor="start" fill="#141414" stroke="#141414" stroke-width="0.22" >(Days)</text>
<text transform="translate(447,464.8) scale(1,1.1)" font-size="8.4" text-anchor="start" fill="#141414" stroke="#141414" stroke-width="0.22" >(trials)</text>
<text transform="translate(430.8,352.4) scale(1,1.1)" font-size="9" text-anchor="start" fill="#141414" stroke="#141414" stroke-width="0.22" >Control</text>
<text transform="translate(430.8,372.9) scale(1,1.1)" font-size="9" text-anchor="start" fill="#d42020" stroke="#d42020" stroke-width="0.22" >Delay</text>
<text transform="translate(430.8,383.3) scale(1,1.1)" font-size="9" text-anchor="start" fill="#d42020" stroke="#d42020" stroke-width="0.22" >epoch</text>
<text transform="translate(430.8,393.6) scale(1,1.1)" font-size="9" text-anchor="start" fill="#d42020" stroke="#d42020" stroke-width="0.22" >photostim.</text>
<text x="484.5" y="321.25" font-size="11" text-anchor="start" fill="#000" font-weight="bold" >i</text>
<text transform="translate(546.4,334) scale(1,1.1)" font-size="9" text-anchor="start" fill="#141414" stroke="#141414" stroke-width="0.22" >5 mice (8 blocks)</text>
<line x1="528.9" y1="339.5" x2="528.9" y2="442.6" stroke="#222" stroke-width="0.9" />
<line x1="525.9" y1="442.6" x2="631.6" y2="442.6" stroke="#222" stroke-width="0.9" />
<line x1="526.2" y1="442.5" x2="528.9" y2="442.5" stroke="#222" stroke-width="0.9" />
<text transform="translate(521,445.1) scale(1,1.1)" font-size="7.3" text-anchor="end" fill="#141414" stroke="#141414" stroke-width="0.22" >0</text>
<line x1="526.2" y1="421.9" x2="528.9" y2="421.9" stroke="#222" stroke-width="0.9" />
<text transform="translate(521,424.5) scale(1,1.1)" font-size="7.3" text-anchor="end" fill="#141414" stroke="#141414" stroke-width="0.22" >20</text>
<line x1="526.2" y1="401.3" x2="528.9" y2="401.3" stroke="#222" stroke-width="0.9" />
<text transform="translate(521,403.90000000000003) scale(1,1.1)" font-size="7.3" text-anchor="end" fill="#141414" stroke="#141414" stroke-width="0.22" >40</text>
<line x1="526.2" y1="380.7" x2="528.9" y2="380.7" stroke="#222" stroke-width="0.9" />
<text transform="translate(521,383.3) scale(1,1.1)" font-size="7.3" text-anchor="end" fill="#141414" stroke="#141414" stroke-width="0.22" >60</text>
<line x1="526.2" y1="360.1" x2="528.9" y2="360.1" stroke="#222" stroke-width="0.9" />
<text transform="translate(521,362.70000000000005) scale(1,1.1)" font-size="7.3" text-anchor="end" fill="#141414" stroke="#141414" stroke-width="0.22" >80</text>
<line x1="526.2" y1="339.5" x2="528.9" y2="339.5" stroke="#222" stroke-width="0.9" />
<text transform="translate(521,342.1) scale(1,1.1)" font-size="7.3" text-anchor="end" fill="#141414" stroke="#141414" stroke-width="0.22" >100</text>
<line x1="541.4" y1="442.6" x2="541.4" y2="445.3" stroke="#222" stroke-width="0.9" />
<line x1="567.2" y1="442.6" x2="567.2" y2="445.3" stroke="#222" stroke-width="0.9" />
<line x1="593.2" y1="442.6" x2="593.2" y2="445.3" stroke="#222" stroke-width="0.9" />
<line x1="619" y1="442.6" x2="619" y2="445.3" stroke="#222" stroke-width="0.9" />
<text x="0" y="0" font-size="9" text-anchor="middle" fill="#141414" stroke="#141414" stroke-width="0.22" transform="translate(503.6,390) rotate(-90) scale(1,1.1)">Correct rate (%)</text>
<text x="0" y="0" font-size="9" text-anchor="end" fill="#141414" stroke="#141414" stroke-width="0.22" transform="translate(543.6,453.3) rotate(-45) scale(1,1.1)">Control</text>
<text x="0" y="0" font-size="9" text-anchor="end" fill="#141414" stroke="#141414" stroke-width="0.22" transform="translate(569.4000000000001,453.3) rotate(-45) scale(1,1.1)">Sample</text>
<text x="0" y="0" font-size="9" text-anchor="end" fill="#141414" stroke="#141414" stroke-width="0.22" transform="translate(595.4000000000001,453.3) rotate(-45) scale(1,1.1)">Delay</text>
<text x="0" y="0" font-size="9" text-anchor="end" fill="#141414" stroke="#141414" stroke-width="0.22" transform="translate(621.2,453.3) rotate(-45) scale(1,1.1)">Response</text>
<line x1="541.4" y1="360" x2="541.4" y2="368" stroke="#f7b0b0" stroke-width="0.8" />
<line x1="567.2" y1="367" x2="567.2" y2="384" stroke="#f7b0b0" stroke-width="0.8" />
<line x1="593.2" y1="357" x2="593.2" y2="376" stroke="#f7b0b0" stroke-width="0.8" />
<line x1="619" y1="351" x2="619" y2="365" stroke="#f7b0b0" stroke-width="0.8" />
<line x1="541.4" y1="364" x2="541.4" y2="374" stroke="#c0c0f6" stroke-width="0.8" />
<line x1="567.2" y1="372" x2="567.2" y2="384" stroke="#c0c0f6" stroke-width="0.8" />
<line x1="593.2" y1="370" x2="593.2" y2="386" stroke="#c0c0f6" stroke-width="0.8" />
<line x1="619" y1="373.7" x2="619" y2="388.7" stroke="#c0c0f6" stroke-width="0.8" />
<line x1="541.4" y1="364" x2="541.4" y2="374" stroke="#9090f2" stroke-width="0.8" />
<line x1="567.2" y1="393" x2="567.2" y2="409" stroke="#9090f2" stroke-width="0.8" />
<line x1="593.2" y1="402" x2="593.2" y2="414" stroke="#9090f2" stroke-width="0.8" />
<line x1="619" y1="377" x2="619" y2="392" stroke="#9090f2" stroke-width="0.8" />
<polyline points="541.40,365.25 567.20,377.61 593.20,367.31 619.00,359.07" fill="none" stroke="#f7a8a8" stroke-width="0.7" stroke-linejoin="round" />
<polyline points="541.40,364.22 567.20,374.52 593.20,365.25 619.00,355.98" fill="none" stroke="#f47a7a" stroke-width="0.8" stroke-linejoin="round" />
<polyline points="541.40,363.19 567.20,371.43 593.20,362.47 619.00,351.86" fill="none" stroke="#f01c1c" stroke-width="1.2" stroke-linejoin="round" />
<line x1="541.4" y1="358.75" x2="541.4" y2="367.5" stroke="#f01c1c" stroke-width="1.0" />
<line x1="567.2" y1="365" x2="567.2" y2="378.75" stroke="#f01c1c" stroke-width="1.0" />
<line x1="593.2" y1="355" x2="593.2" y2="371.25" stroke="#f01c1c" stroke-width="1.0" />
<line x1="619" y1="349.5" x2="619" y2="355.5" stroke="#f01c1c" stroke-width="1.0" />
<polyline points="541.40,368.86 567.20,379.98 593.20,378.23 619.00,378.23" fill="none" stroke="#b4b4f4" stroke-width="0.7" stroke-linejoin="round" />
<polyline points="541.40,368.34 567.20,401.30 593.20,408.00 619.00,384.51" fill="none" stroke="#7a7af0" stroke-width="0.8" stroke-linejoin="round" />
<polyline points="541.40,369.37 567.20,403.77 593.20,412.63 619.00,395.12" fill="none" stroke="#1c1cf0" stroke-width="1.2" stroke-linejoin="round" />
<line x1="541.4" y1="365" x2="541.4" y2="374.5" stroke="#1c1cf0" stroke-width="1.0" />
<line x1="567.2" y1="395.5" x2="567.2" y2="411.25" stroke="#1c1cf0" stroke-width="1.0" />
<line x1="593.2" y1="406.25" x2="593.2" y2="418.75" stroke="#1c1cf0" stroke-width="1.0" />
<line x1="619" y1="387" x2="619" y2="401.25" stroke="#1c1cf0" stroke-width="1.0" />
<polygon points="619.00,337.50 619.56,338.84 621.00,338.95 619.90,339.89 620.23,341.30 619.00,340.55 617.77,341.30 618.10,339.89 617.00,338.95 618.44,338.84" fill="#f01c1c"/>
<polygon points="567.20,346.70 567.76,348.04 569.20,348.15 568.10,349.09 568.43,350.50 567.20,349.75 565.97,350.50 566.30,349.09 565.20,348.15 566.64,348.04" fill="#f8b8b8"/>
<polygon points="618.80,425.00 619.36,426.34 620.80,426.45 619.70,427.39 620.03,428.80 618.80,428.05 617.57,428.80 617.90,427.39 616.80,426.45 618.24,426.34" fill="#c0c0f4"/>
<polygon points="567.00,431.20 567.56,432.54 569.00,432.65 567.90,433.59 568.23,435.00 567.00,434.25 565.77,435.00 566.10,433.59 565.00,432.65 566.44,432.54" fill="#9c9cf4"/>
<polygon points="567.00,435.90 567.56,437.24 569.00,437.35 567.90,438.29 568.23,439.70 567.00,438.94 565.77,439.70 566.10,438.29 565.00,437.35 566.44,437.24" fill="#2424f0"/>
<polygon points="590.90,431.20 591.46,432.54 592.90,432.65 591.80,433.59 592.13,435.00 590.90,434.25 589.67,435.00 590.00,433.59 588.90,432.65 590.34,432.54" fill="#9c9cf4"/>
<polygon points="595.10,431.20 595.66,432.54 597.10,432.65 596.00,433.59 596.33,435.00 595.10,434.25 593.87,435.00 594.20,433.59 593.10,432.65 594.54,432.54" fill="#9c9cf4"/>
<polygon points="590.90,435.90 591.46,437.24 592.90,437.35 591.80,438.29 592.13,439.70 590.90,438.94 589.67,439.70 590.00,438.29 588.90,437.35 590.34,437.24" fill="#2424f0"/>
<polygon points="595.10,435.90 595.66,437.24 597.10,437.35 596.00,438.29 596.33,439.70 595.10,438.94 593.87,439.70 594.20,438.29 593.10,437.35 594.54,437.24" fill="#2424f0"/>
<polygon points="617.00,435.90 617.56,437.24 619.00,437.35 617.90,438.29 618.23,439.70 617.00,438.94 615.77,439.70 616.10,438.29 615.00,437.35 616.44,437.24" fill="#2424f0"/>
<polygon points="620.80,435.90 621.36,437.24 622.80,437.35 621.70,438.29 622.03,439.70 620.80,438.94 619.57,439.70 619.90,438.29 618.80,437.35 620.24,437.24" fill="#2424f0"/>
<text transform="translate(641,360) scale(1,1.1)" font-size="9" text-anchor="start" fill="#f02020" stroke="#f02020" stroke-width="0.22" >Instructed lick left</text>
<text transform="translate(638.7,388) scale(1,1.1)" font-size="9" text-anchor="start" fill="#2424f0" stroke="#2424f0" stroke-width="0.22" >Instructed lick right</text>
<line x1="640.3" y1="408.2" x2="655.2" y2="408.2" stroke="#f7a8a8" stroke-width="0.8" />
<line x1="640.3" y1="412.8" x2="655.2" y2="412.8" stroke="#b4b4f4" stroke-width="0.8" />
<text transform="translate(660.9,414.4) scale(1,1.1)" font-size="9" text-anchor="start" fill="#141414" stroke="#141414" stroke-width="0.22" >0.35 mW mm<tspan dy="-3.4" font-size="6.5">−2</tspan></text>
<line x1="640.3" y1="420.5" x2="655.2" y2="420.5" stroke="#f47a7a" stroke-width="0.9" />
<line x1="640.3" y1="425.1" x2="655.2" y2="425.1" stroke="#7a7af0" stroke-width="0.9" />
<text transform="translate(660.9,426.7) scale(1,1.1)" font-size="9" text-anchor="start" fill="#141414" stroke="#141414" stroke-width="0.22" >1.77 mW mm<tspan dy="-3.4" font-size="6.5">−2</tspan></text>
<line x1="640.3" y1="433.8" x2="655.2" y2="433.8" stroke="#f01c1c" stroke-width="1.3" />
<line x1="640.3" y1="438.4" x2="655.2" y2="438.4" stroke="#1c1cf0" stroke-width="1.3" />
<text transform="translate(660.9,440.0) scale(1,1.1)" font-size="9" text-anchor="start" fill="#141414" stroke="#141414" stroke-width="0.22" >3.54 mW mm<tspan dy="-3.4" font-size="6.5">−2</tspan></text>
</svg>
</body></html>
